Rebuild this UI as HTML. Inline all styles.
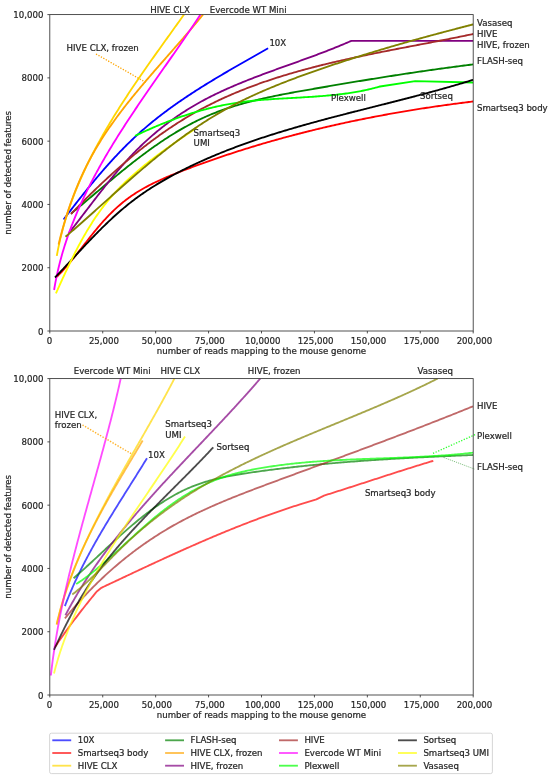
<!DOCTYPE html>
<html><head><meta charset="utf-8"><style>
html,body{margin:0;padding:0;background:#fff;}
body{width:550px;height:784px;overflow:hidden;}
svg{display:block;}
text{font-family:"DejaVu Sans","Liberation Sans",sans-serif;font-size:8.6px;fill:#262626;stroke:#262626;stroke-width:0.22px;}
.ax{stroke:#333;stroke-width:0.85;fill:none;}
</style></head><body>
<svg width="550" height="784" viewBox="0 0 550 784">
<defs><clipPath id="c14"><rect x="49.8" y="14.6" width="423.4" height="316.4"/></clipPath><clipPath id="c378"><rect x="49.8" y="378.6" width="423.4" height="316.4"/></clipPath></defs>
<g clip-path="url(#c14)" fill="none" stroke-width="1.85" stroke-linejoin="round" stroke-linecap="butt" opacity="1">
<path d="M63.60,219.50L64.52,218.30 65.44,217.09 66.36,215.89 67.28,214.69 68.20,213.49 69.12,212.28 70.05,211.08 70.97,209.88 71.90,208.68 72.83,207.48 73.76,206.28 74.69,205.08 75.62,203.89 76.55,202.69 77.49,201.50 78.42,200.30 79.36,199.11 80.30,197.92 81.24,196.73 82.19,195.54 83.13,194.35 84.08,193.16 85.03,191.98 85.98,190.80 86.93,189.61 87.89,188.43 88.85,187.26 89.81,186.08 90.77,184.91 91.73,183.73 92.70,182.56 93.67,181.39 94.64,180.23 95.61,179.06 96.59,177.90 97.57,176.74 98.55,175.59 99.53,174.43 100.52,173.28 101.51,172.13 102.50,170.99 103.49,169.84 104.49,168.70 105.49,167.57 106.50,166.43 107.50,165.30 108.51,164.17 109.52,163.04 110.54,161.92 111.56,160.80 112.58,159.69 113.61,158.58 114.63,157.47 115.67,156.36 116.70,155.26 117.74,154.16 118.78,153.07 119.83,151.98 120.88,150.89 121.93,149.81 122.99,148.73 124.05,147.65 125.11,146.58 126.18,145.52 127.25,144.46 128.33,143.40 129.41,142.34 130.49,141.29 131.58,140.25 132.67,139.21 133.77,138.18 134.87,137.14 135.97,136.12 137.08,135.10 138.19,134.08 139.31,133.07 140.43,132.06 141.56,131.06 142.69,130.07 143.82,129.08 144.96,128.09 146.11,127.11 147.26,126.14 148.41,125.16 149.56,124.20 150.73,123.24 151.89,122.28 153.06,121.33 154.23,120.38 155.41,119.44 156.59,118.50 157.78,117.57 158.96,116.64 160.16,115.72 161.35,114.80 162.55,113.88 163.76,112.97 164.96,112.06 166.17,111.16 167.39,110.26 168.60,109.37 169.82,108.47 171.05,107.59 172.27,106.70 173.50,105.82 174.74,104.95 175.97,104.08 177.21,103.21 178.45,102.34 179.70,101.48 180.94,100.62 182.19,99.77 183.45,98.92 184.70,98.07 185.96,97.23 187.22,96.38 188.48,95.55 189.75,94.71 191.02,93.88 192.29,93.05 193.56,92.22 194.84,91.40 196.11,90.58 197.39,89.76 198.67,88.95 199.96,88.13 201.24,87.32 202.53,86.52 203.82,85.71 205.11,84.91 206.40,84.11 207.69,83.31 208.99,82.52 210.29,81.72 211.59,80.93 212.89,80.14 214.19,79.36 215.49,78.57 216.80,77.79 218.10,77.01 219.41,76.23 220.72,75.45 222.02,74.67 223.33,73.90 224.65,73.13 225.96,72.36 227.27,71.59 228.58,70.82 229.90,70.05 231.21,69.29 232.53,68.53 233.84,67.76 235.16,67.00 236.48,66.24 237.80,65.48 239.11,64.73 240.43,63.97 241.75,63.21 243.07,62.46 244.39,61.70 245.71,60.95 247.03,60.20 248.35,59.44 249.67,58.69 250.99,57.94 252.31,57.19 253.62,56.44 254.94,55.69 256.26,54.94 257.58,54.19 258.90,53.44 260.21,52.69 261.53,51.94 262.84,51.20 264.16,50.45 265.47,49.70 266.79,48.95 268.10,48.20" stroke="#0000ff"/>
<path d="M56.80,276.80L57.85,275.76 58.89,274.72 59.93,273.66 60.95,272.58 61.97,271.50 62.98,270.41 63.99,269.31 64.99,268.19 65.99,267.07 66.97,265.94 67.96,264.80 68.94,263.66 69.91,262.50 70.88,261.34 71.85,260.18 72.81,259.01 73.77,257.83 74.72,256.65 75.68,255.46 76.63,254.27 77.58,253.07 78.52,251.87 79.47,250.67 80.41,249.47 81.36,248.26 82.30,247.05 83.24,245.84 84.19,244.63 85.13,243.42 86.07,242.21 87.02,241.01 87.96,239.80 88.91,238.59 89.86,237.39 90.82,236.19 91.77,234.99 92.73,233.79 93.69,232.60 94.65,231.41 95.62,230.23 96.60,229.05 97.57,227.88 98.55,226.72 99.54,225.56 100.53,224.40 101.53,223.26 102.54,222.12 103.55,220.99 104.56,219.87 105.59,218.76 106.62,217.65 107.65,216.56 108.70,215.47 109.75,214.40 110.80,213.33 111.87,212.27 112.94,211.23 114.02,210.19 115.11,209.16 116.20,208.15 117.30,207.15 118.42,206.16 119.54,205.18 120.66,204.21 121.80,203.25 122.95,202.31 124.10,201.38 125.27,200.46 126.44,199.56 127.62,198.67 128.81,197.79 130.01,196.93 131.22,196.08 132.44,195.24 133.67,194.42 134.91,193.61 136.16,192.81 137.41,192.02 138.67,191.25 139.94,190.48 141.22,189.73 142.50,188.99 143.79,188.26 145.09,187.54 146.40,186.83 147.71,186.13 149.03,185.44 150.35,184.76 151.68,184.08 153.02,183.42 154.36,182.76 155.70,182.12 157.05,181.48 158.41,180.85 159.77,180.22 161.14,179.60 162.51,178.99 163.88,178.39 165.26,177.79 166.64,177.20 168.02,176.61 169.41,176.03 170.80,175.46 172.20,174.89 173.59,174.32 174.99,173.76 176.39,173.20 177.80,172.64 179.20,172.09 180.61,171.55 182.01,171.00 183.42,170.46 184.83,169.92 186.24,169.38 187.65,168.85 189.07,168.31 190.48,167.78 191.89,167.25 193.31,166.73 194.72,166.20 196.14,165.68 197.55,165.16 198.97,164.64 200.39,164.12 201.81,163.61 203.23,163.10 204.65,162.59 206.07,162.08 207.49,161.57 208.91,161.07 210.33,160.57 211.76,160.07 213.18,159.57 214.61,159.08 216.03,158.59 217.46,158.10 218.89,157.61 220.32,157.12 221.75,156.64 223.18,156.15 224.61,155.67 226.04,155.20 227.47,154.72 228.90,154.25 230.33,153.77 231.77,153.30 233.20,152.84 234.64,152.37 236.07,151.91 237.51,151.44 238.94,150.98 240.38,150.53 241.82,150.07 243.26,149.62 244.70,149.17 246.14,148.72 247.58,148.27 249.02,147.82 250.46,147.38 251.91,146.94 253.35,146.50 254.79,146.06 256.24,145.63 257.68,145.19 259.13,144.76 260.57,144.33 262.02,143.91 263.47,143.48 264.92,143.06 266.37,142.64 267.82,142.22 269.26,141.80 270.72,141.38 272.17,140.97 273.62,140.56 275.07,140.15 276.52,139.74 277.98,139.34 279.43,138.93 280.88,138.53 282.34,138.13 283.79,137.73 285.25,137.34 286.71,136.94 288.16,136.55 289.62,136.16 291.08,135.77 292.54,135.38 294.00,135.00 295.46,134.62 296.92,134.24 298.38,133.86 299.84,133.48 301.30,133.11 302.76,132.73 304.22,132.36 305.69,131.99 307.15,131.62 308.61,131.26 310.08,130.89 311.54,130.53 313.01,130.17 314.47,129.81 315.94,129.46 317.41,129.10 318.87,128.75 320.34,128.40 321.81,128.05 323.28,127.70 324.75,127.36 326.22,127.02 327.69,126.67 329.16,126.33 330.63,126.00 332.10,125.66 333.57,125.33 335.04,124.99 336.51,124.66 337.99,124.33 339.46,124.01 340.93,123.68 342.41,123.36 343.88,123.04 345.36,122.72 346.83,122.40 348.31,122.08 349.78,121.77 351.26,121.45 352.73,121.14 354.21,120.83 355.69,120.53 357.17,120.22 358.64,119.92 360.12,119.61 361.60,119.31 363.08,119.02 364.56,118.72 366.04,118.42 367.52,118.13 369.00,117.84 370.48,117.55 371.96,117.26 373.44,116.97 374.92,116.69 376.40,116.40 377.89,116.12 379.37,115.84 380.85,115.57 382.33,115.29 383.82,115.01 385.30,114.74 386.79,114.47 388.27,114.20 389.75,113.93 391.24,113.67 392.72,113.40 394.21,113.14 395.69,112.88 397.18,112.62 398.67,112.36 400.15,112.10 401.64,111.85 403.13,111.60 404.61,111.34 406.10,111.09 407.59,110.85 409.07,110.60 410.56,110.36 412.05,110.11 413.54,109.87 415.03,109.63 416.52,109.39 418.00,109.16 419.49,108.92 420.98,108.69 422.47,108.46 423.96,108.23 425.45,108.00 426.94,107.77 428.43,107.54 429.92,107.32 431.41,107.10 432.90,106.88 434.39,106.66 435.88,106.44 437.38,106.22 438.87,106.01 440.36,105.80 441.85,105.59 443.34,105.38 444.83,105.17 446.33,104.96 447.82,104.76 449.31,104.55 450.80,104.35 452.30,104.15 453.79,103.95 455.28,103.75 456.77,103.56 458.27,103.36 459.76,103.17 461.25,102.98 462.75,102.79 464.24,102.60 465.73,102.41 467.23,102.23 468.72,102.04 470.21,101.86 471.71,101.68 473.20,101.50" stroke="#ff0000"/>
<path d="M56.80,255.90L57.07,254.38 57.35,252.87 57.63,251.36 57.92,249.85 58.22,248.35 58.53,246.85 58.85,245.35 59.17,243.85 59.50,242.36 59.83,240.87 60.17,239.39 60.53,237.90 60.88,236.42 61.25,234.95 61.62,233.47 62.00,232.00 62.38,230.53 62.77,229.06 63.17,227.60 63.58,226.14 63.99,224.68 64.41,223.22 64.83,221.77 65.27,220.32 65.70,218.88 66.15,217.43 66.60,215.99 67.06,214.55 67.52,213.11 67.99,211.68 68.47,210.25 68.95,208.82 69.44,207.39 69.94,205.97 70.44,204.55 70.94,203.13 71.46,201.71 71.97,200.30 72.50,198.89 73.03,197.48 73.56,196.07 74.11,194.67 74.65,193.27 75.21,191.87 75.76,190.47 76.33,189.08 76.90,187.69 77.47,186.30 78.05,184.91 78.64,183.53 79.23,182.14 79.83,180.76 80.43,179.38 81.03,178.01 81.64,176.63 82.26,175.26 82.88,173.89 83.51,172.53 84.14,171.16 84.78,169.80 85.42,168.44 86.06,167.08 86.71,165.72 87.37,164.37 88.03,163.02 88.69,161.67 89.36,160.32 90.03,158.97 90.71,157.63 91.39,156.28 92.08,154.94 92.77,153.61 93.46,152.27 94.16,150.93 94.86,149.60 95.57,148.27 96.28,146.94 97.00,145.62 97.72,144.29 98.44,142.97 99.17,141.65 99.90,140.33 100.63,139.01 101.37,137.69 102.11,136.38 102.85,135.06 103.60,133.75 104.36,132.44 105.11,131.13 105.87,129.83 106.63,128.52 107.40,127.22 108.17,125.92 108.94,124.62 109.72,123.32 110.50,122.03 111.28,120.73 112.06,119.44 112.85,118.14 113.64,116.85 114.43,115.57 115.23,114.28 116.03,112.99 116.83,111.71 117.64,110.42 118.44,109.14 119.25,107.86 120.07,106.58 120.88,105.30 121.70,104.03 122.52,102.75 123.34,101.48 124.17,100.21 124.99,98.94 125.82,97.67 126.65,96.40 127.49,95.13 128.32,93.86 129.16,92.60 130.00,91.33 130.84,90.07 131.69,88.81 132.53,87.55 133.38,86.29 134.23,85.03 135.08,83.77 135.93,82.52 136.79,81.26 137.64,80.01 138.50,78.76 139.36,77.50 140.22,76.25 141.08,75.00 141.94,73.75 142.81,72.51 143.67,71.26 144.54,70.01 145.41,68.77 146.27,67.52 147.14,66.28 148.01,65.04 148.89,63.79 149.76,62.55 150.63,61.31 151.51,60.07 152.38,58.83 153.26,57.59 154.13,56.36 155.01,55.12 155.89,53.88 156.77,52.65 157.65,51.41 158.53,50.18 159.41,48.95 160.29,47.71 161.17,46.48 162.05,45.25 162.93,44.02 163.81,42.79 164.69,41.56 165.57,40.33 166.45,39.10 167.33,37.87 168.21,36.64 169.09,35.42 169.97,34.19 170.85,32.96 171.73,31.73 172.61,30.51 173.49,29.28 174.37,28.06 175.25,26.83 176.13,25.61 177.01,24.38 177.88,23.16 178.76,21.94 179.63,20.71 180.51,19.49 181.38,18.27 182.26,17.05 183.13,15.82 184.00,14.60" stroke="#ffd700"/>
<path d="M71.20,213.50L72.35,212.56 73.50,211.61 74.65,210.66 75.80,209.71 76.95,208.75 78.09,207.80 79.24,206.84 80.39,205.88 81.54,204.92 82.69,203.96 83.84,202.99 84.99,202.03 86.14,201.06 87.29,200.10 88.44,199.13 89.59,198.16 90.74,197.19 91.89,196.22 93.04,195.25 94.19,194.28 95.35,193.30 96.50,192.33 97.65,191.36 98.81,190.39 99.96,189.41 101.12,188.44 102.28,187.47 103.44,186.50 104.59,185.53 105.75,184.55 106.91,183.58 108.08,182.61 109.24,181.64 110.40,180.68 111.57,179.71 112.73,178.74 113.90,177.78 115.07,176.81 116.24,175.85 117.41,174.89 118.58,173.93 119.75,172.97 120.93,172.01 122.10,171.06 123.28,170.11 124.46,169.16 125.64,168.21 126.82,167.26 128.00,166.32 129.19,165.38 130.38,164.44 131.57,163.50 132.76,162.57 133.95,161.64 135.14,160.71 136.34,159.79 137.54,158.87 138.74,157.95 139.94,157.04 141.14,156.12 142.35,155.22 143.56,154.31 144.77,153.41 145.98,152.52 147.20,151.62 148.41,150.73 149.63,149.85 150.85,148.97 152.08,148.09 153.30,147.22 154.53,146.36 155.77,145.49 157.00,144.64 158.24,143.78 159.48,142.93 160.72,142.09 161.96,141.25 163.21,140.42 164.46,139.59 165.71,138.77 166.97,137.96 168.23,137.15 169.49,136.34 170.75,135.54 172.02,134.75 173.29,133.96 174.57,133.18 175.84,132.40 177.12,131.63 178.41,130.87 179.69,130.12 180.98,129.37 182.27,128.62 183.57,127.89 184.87,127.16 186.17,126.44 187.48,125.72 188.79,125.01 190.10,124.31 191.42,123.62 192.74,122.94 194.07,122.26 195.39,121.59 196.73,120.92 198.06,120.27 199.40,119.62 200.74,118.98 202.09,118.35 203.44,117.73 204.80,117.12 206.16,116.51 207.52,115.91 208.89,115.33 210.26,114.75 211.63,114.18 213.01,113.61 214.40,113.06 215.78,112.52 217.17,111.98 218.57,111.45 219.97,110.93 221.37,110.42 222.78,109.91 224.19,109.42 225.60,108.93 227.02,108.44 228.43,107.97 229.86,107.50 231.28,107.04 232.71,106.59 234.14,106.14 235.58,105.70 237.02,105.27 238.46,104.84 239.90,104.42 241.35,104.01 242.80,103.60 244.25,103.20 245.70,102.80 247.16,102.41 248.62,102.03 250.08,101.65 251.54,101.27 253.00,100.91 254.47,100.54 255.94,100.18 257.41,99.83 258.88,99.48 260.36,99.14 261.84,98.80 263.31,98.46 264.79,98.13 266.27,97.80 267.76,97.48 269.24,97.16 270.73,96.85 272.21,96.53 273.70,96.23 275.19,95.92 276.68,95.62 278.17,95.32 279.66,95.03 281.15,94.73 282.65,94.44 284.14,94.16 285.63,93.87 287.13,93.59 288.62,93.31 290.12,93.03 291.61,92.76 293.11,92.48 294.61,92.21 296.10,91.94 297.60,91.67 299.10,91.41 300.59,91.14 302.09,90.87 303.59,90.61 305.08,90.35 306.58,90.09 308.07,89.82 309.57,89.56 311.06,89.30 312.55,89.04 314.05,88.78 315.54,88.53 317.03,88.27 318.52,88.01 320.01,87.75 321.50,87.49 322.99,87.24 324.48,86.98 325.97,86.72 327.46,86.47 328.94,86.21 330.43,85.96 331.92,85.70 333.40,85.45 334.89,85.20 336.38,84.94 337.86,84.69 339.35,84.44 340.83,84.19 342.31,83.94 343.80,83.69 345.28,83.44 346.77,83.19 348.25,82.94 349.73,82.69 351.21,82.44 352.70,82.20 354.18,81.95 355.66,81.70 357.14,81.46 358.62,81.21 360.10,80.97 361.59,80.72 363.07,80.48 364.55,80.24 366.03,79.99 367.51,79.75 368.99,79.51 370.47,79.27 371.95,79.03 373.43,78.79 374.91,78.55 376.39,78.32 377.87,78.08 379.35,77.84 380.83,77.60 382.31,77.37 383.79,77.13 385.27,76.90 386.75,76.67 388.23,76.43 389.71,76.20 391.20,75.97 392.68,75.74 394.16,75.51 395.64,75.28 397.12,75.05 398.60,74.82 400.08,74.59 401.57,74.37 403.05,74.14 404.53,73.91 406.01,73.69 407.50,73.47 408.98,73.24 410.46,73.02 411.95,72.80 413.43,72.58 414.91,72.36 416.40,72.14 417.88,71.92 419.37,71.70 420.85,71.48 422.34,71.27 423.83,71.05 425.31,70.84 426.80,70.62 428.29,70.41 429.78,70.20 431.27,69.98 432.76,69.77 434.25,69.56 435.74,69.35 437.23,69.14 438.72,68.94 440.21,68.73 441.70,68.52 443.20,68.32 444.69,68.11 446.18,67.91 447.68,67.71 449.17,67.51 450.67,67.31 452.17,67.11 453.67,66.91 455.16,66.71 456.66,66.51 458.16,66.31 459.66,66.12 461.16,65.92 462.67,65.73 464.17,65.54 465.67,65.35 467.18,65.15 468.68,64.96 470.19,64.78 471.69,64.59 473.20,64.40" stroke="#008000"/>
<path d="M58.60,244.50L58.96,243.01 59.32,241.53 59.69,240.04 60.06,238.56 60.43,237.08 60.81,235.60 61.20,234.13 61.59,232.65 61.99,231.18 62.39,229.71 62.80,228.24 63.21,226.78 63.63,225.31 64.05,223.85 64.48,222.39 64.91,220.94 65.35,219.48 65.79,218.03 66.24,216.58 66.70,215.13 67.16,213.69 67.62,212.24 68.10,210.80 68.57,209.36 69.06,207.93 69.54,206.50 70.04,205.07 70.54,203.64 71.04,202.21 71.56,200.79 72.07,199.37 72.60,197.96 73.13,196.54 73.66,195.13 74.20,193.72 74.75,192.32 75.30,190.91 75.86,189.52 76.43,188.12 77.00,186.73 77.58,185.34 78.16,183.95 78.75,182.56 79.35,181.18 79.95,179.81 80.56,178.43 81.17,177.06 81.79,175.69 82.42,174.33 83.06,172.97 83.70,171.61 84.34,170.26 85.00,168.91 85.66,167.56 86.32,166.21 87.00,164.87 87.68,163.54 88.36,162.20 89.06,160.88 89.76,159.55 90.47,158.23 91.18,156.91 91.90,155.60 92.63,154.29 93.36,152.98 94.10,151.68 94.85,150.38 95.61,149.08 96.37,147.79 97.13,146.50 97.91,145.22 98.69,143.94 99.47,142.66 100.27,141.39 101.07,140.12 101.87,138.85 102.68,137.58 103.50,136.32 104.32,135.07 105.14,133.81 105.98,132.56 106.81,131.31 107.66,130.07 108.50,128.82 109.36,127.59 110.22,126.35 111.08,125.12 111.95,123.89 112.82,122.66 113.70,121.43 114.58,120.21 115.47,118.99 116.36,117.77 117.26,116.56 118.16,115.35 119.06,114.14 119.97,112.93 120.88,111.73 121.80,110.52 122.72,109.32 123.64,108.13 124.57,106.93 125.50,105.74 126.43,104.55 127.37,103.36 128.31,102.17 129.26,100.98 130.20,99.80 131.15,98.62 132.11,97.44 133.06,96.26 134.02,95.09 134.98,93.91 135.95,92.74 136.92,91.57 137.89,90.40 138.86,89.23 139.83,88.07 140.81,86.90 141.79,85.74 142.77,84.58 143.75,83.42 144.73,82.26 145.72,81.10 146.71,79.94 147.70,78.79 148.69,77.63 149.68,76.48 150.67,75.33 151.67,74.18 152.67,73.03 153.66,71.88 154.66,70.73 155.66,69.58 156.66,68.43 157.66,67.29 158.66,66.14 159.66,65.00 160.67,63.85 161.67,62.71 162.67,61.57 163.68,60.42 164.68,59.28 165.68,58.14 166.69,57.00 167.69,55.86 168.69,54.72 169.70,53.58 170.70,52.43 171.70,51.29 172.70,50.15 173.70,49.01 174.70,47.87 175.70,46.73 176.70,45.59 177.70,44.45 178.69,43.31 179.69,42.17 180.68,41.03 181.67,39.89 182.67,38.74 183.66,37.60 184.64,36.46 185.63,35.32 186.61,34.17 187.60,33.03 188.58,31.88 189.56,30.74 190.53,29.59 191.51,28.44 192.48,27.29 193.45,26.14 194.42,25.00 195.38,23.84 196.34,22.69 197.30,21.54 198.26,20.39 199.22,19.23 200.17,18.08 201.11,16.92 202.06,15.76 203.00,14.60" stroke="#ffa500"/>
<path d="M68.50,233.50L69.43,232.33 70.35,231.16 71.27,229.99 72.20,228.81 73.12,227.63 74.04,226.45 74.96,225.27 75.88,224.08 76.80,222.90 77.71,221.71 78.63,220.52 79.55,219.32 80.47,218.13 81.38,216.93 82.30,215.73 83.22,214.54 84.13,213.34 85.05,212.13 85.97,210.93 86.89,209.73 87.80,208.53 88.72,207.33 89.64,206.12 90.56,204.92 91.48,203.72 92.41,202.51 93.33,201.31 94.25,200.11 95.18,198.90 96.11,197.70 97.03,196.50 97.96,195.30 98.89,194.10 99.83,192.90 100.76,191.70 101.70,190.51 102.63,189.31 103.57,188.12 104.52,186.93 105.46,185.74 106.41,184.55 107.36,183.37 108.31,182.19 109.26,181.00 110.22,179.83 111.18,178.65 112.14,177.48 113.10,176.31 114.07,175.14 115.04,173.98 116.01,172.82 116.99,171.66 117.97,170.51 118.95,169.36 119.94,168.21 120.93,167.07 121.92,165.93 122.92,164.79 123.92,163.66 124.93,162.54 125.94,161.41 126.95,160.30 127.97,159.19 128.99,158.08 130.02,156.98 131.05,155.88 132.08,154.79 133.12,153.70 134.17,152.62 135.22,151.54 136.27,150.47 137.33,149.41 138.40,148.35 139.47,147.30 140.54,146.26 141.62,145.22 142.70,144.18 143.79,143.16 144.89,142.13 145.99,141.12 147.09,140.11 148.20,139.11 149.32,138.11 150.44,137.12 151.56,136.14 152.69,135.16 153.82,134.19 154.96,133.22 156.11,132.27 157.25,131.31 158.41,130.37 159.57,129.43 160.73,128.49 161.90,127.57 163.07,126.64 164.25,125.73 165.43,124.82 166.62,123.92 167.81,123.02 169.01,122.13 170.21,121.25 171.41,120.38 172.62,119.51 173.84,118.64 175.06,117.79 176.28,116.94 177.51,116.09 178.75,115.25 179.98,114.42 181.23,113.60 182.47,112.78 183.72,111.97 184.98,111.16 186.24,110.37 187.51,109.57 188.78,108.79 190.05,108.01 191.33,107.24 192.61,106.47 193.90,105.72 195.19,104.96 196.48,104.22 197.78,103.48 199.09,102.75 200.40,102.02 201.71,101.30 203.03,100.59 204.35,99.88 205.67,99.18 207.00,98.49 208.33,97.80 209.67,97.11 211.01,96.44 212.35,95.77 213.70,95.10 215.05,94.44 216.40,93.78 217.76,93.13 219.12,92.49 220.48,91.85 221.85,91.21 223.22,90.58 224.59,89.95 225.96,89.33 227.34,88.72 228.72,88.10 230.10,87.50 231.49,86.89 232.88,86.29 234.27,85.70 235.66,85.11 237.06,84.52 238.46,83.93 239.86,83.35 241.26,82.78 242.66,82.20 244.07,81.63 245.47,81.07 246.88,80.50 248.30,79.94 249.71,79.38 251.12,78.83 252.54,78.28 253.96,77.73 255.38,77.18 256.80,76.64 258.22,76.10 259.64,75.56 261.07,75.02 262.49,74.49 263.92,73.95 265.34,73.42 266.77,72.89 268.20,72.36 269.63,71.84 271.06,71.31 272.49,70.79 273.92,70.27 275.35,69.75 276.79,69.23 278.22,68.71 279.65,68.19 281.08,67.68 282.52,67.16 283.95,66.65 285.38,66.13 286.82,65.62 288.25,65.10 289.68,64.59 291.11,64.08 292.54,63.56 293.98,63.05 295.41,62.54 296.84,62.03 298.27,61.51 299.69,61.00 301.12,60.48 302.55,59.97 303.97,59.45 305.40,58.93 306.82,58.42 308.25,57.90 309.67,57.38 311.09,56.86 312.51,56.33 313.92,55.81 315.34,55.29 316.75,54.76 318.17,54.23 319.58,53.70 320.99,53.17 322.39,52.63 323.80,52.10 325.20,51.56 326.60,51.02 328.00,50.48 329.40,49.93 330.80,49.39 332.19,48.83 333.58,48.28 334.97,47.73 336.35,47.17 337.73,46.61 339.11,46.04 340.49,45.47 341.86,44.90 343.24,44.33 344.60,43.75 345.97,43.17 347.33,42.58 348.69,41.99 350.05,41.40 351.40,40.80L473.20,40.90" stroke="#800080"/>
<path d="M70.90,214.10L71.94,213.02 72.99,211.93 74.03,210.85 75.08,209.77 76.13,208.69 77.18,207.61 78.24,206.53 79.29,205.45 80.35,204.38 81.41,203.30 82.47,202.23 83.54,201.16 84.60,200.09 85.67,199.02 86.74,197.95 87.82,196.89 88.89,195.82 89.97,194.76 91.05,193.70 92.13,192.64 93.21,191.59 94.30,190.53 95.38,189.48 96.47,188.43 97.57,187.38 98.66,186.33 99.76,185.28 100.86,184.24 101.96,183.20 103.06,182.16 104.17,181.12 105.27,180.09 106.38,179.06 107.50,178.03 108.61,177.00 109.73,175.98 110.85,174.95 111.97,173.93 113.09,172.92 114.22,171.90 115.35,170.89 116.48,169.88 117.61,168.88 118.75,167.87 119.89,166.87 121.03,165.87 122.17,164.88 123.32,163.89 124.46,162.90 125.61,161.91 126.77,160.93 127.92,159.95 129.08,158.98 130.24,158.00 131.40,157.03 132.57,156.07 133.73,155.11 134.90,154.15 136.08,153.19 137.25,152.24 138.43,151.29 139.61,150.34 140.79,149.40 141.98,148.47 143.17,147.53 144.36,146.60 145.55,145.67 146.74,144.75 147.94,143.83 149.14,142.92 150.35,142.01 151.55,141.10 152.76,140.20 153.97,139.30 155.19,138.41 156.40,137.52 157.62,136.63 158.84,135.75 160.07,134.87 161.30,134.00 162.53,133.13 163.76,132.27 164.99,131.41 166.23,130.56 167.47,129.71 168.72,128.86 169.96,128.02 171.21,127.19 172.47,126.36 173.72,125.53 174.98,124.71 176.24,123.89 177.50,123.08 178.77,122.28 180.04,121.48 181.31,120.68 182.58,119.89 183.86,119.11 185.14,118.33 186.43,117.55 187.71,116.78 189.00,116.02 190.29,115.26 191.59,114.50 192.89,113.76 194.19,113.02 195.49,112.28 196.80,111.55 198.11,110.82 199.42,110.10 200.73,109.39 202.05,108.68 203.37,107.98 204.70,107.28 206.03,106.59 207.36,105.90 208.69,105.22 210.02,104.55 211.36,103.88 212.70,103.21 214.05,102.55 215.39,101.90 216.74,101.25 218.09,100.60 219.44,99.96 220.80,99.33 222.16,98.70 223.52,98.08 224.89,97.46 226.25,96.84 227.62,96.24 228.99,95.63 230.37,95.03 231.74,94.44 233.12,93.85 234.50,93.26 235.88,92.68 237.27,92.10 238.66,91.53 240.05,90.97 241.44,90.40 242.83,89.85 244.23,89.29 245.63,88.74 247.03,88.20 248.43,87.66 249.83,87.12 251.24,86.59 252.65,86.06 254.06,85.54 255.47,85.02 256.89,84.51 258.30,84.00 259.72,83.49 261.14,82.99 262.56,82.49 263.99,81.99 265.41,81.50 266.84,81.01 268.27,80.53 269.70,80.05 271.13,79.57 272.57,79.10 274.01,78.63 275.44,78.17 276.88,77.71 278.32,77.25 279.77,76.80 281.21,76.35 282.65,75.90 284.10,75.46 285.55,75.02 287.00,74.58 288.45,74.15 289.90,73.72 291.36,73.29 292.81,72.86 294.27,72.44 295.73,72.03 297.19,71.61 298.65,71.20 300.11,70.79 301.57,70.39 303.04,69.99 304.50,69.59 305.97,69.19 307.44,68.80 308.91,68.41 310.38,68.02 311.85,67.63 313.32,67.25 314.79,66.87 316.27,66.49 317.74,66.12 319.22,65.75 320.69,65.38 322.17,65.01 323.65,64.64 325.13,64.28 326.61,63.92 328.09,63.56 329.57,63.21 331.05,62.86 332.54,62.51 334.02,62.16 335.50,61.81 336.99,61.47 338.48,61.12 339.96,60.78 341.45,60.45 342.94,60.11 344.42,59.78 345.91,59.44 347.40,59.11 348.89,58.78 350.38,58.46 351.87,58.13 353.36,57.81 354.85,57.49 356.34,57.17 357.84,56.85 359.33,56.53 360.82,56.22 362.31,55.90 363.80,55.59 365.30,55.28 366.79,54.97 368.28,54.66 369.78,54.36 371.27,54.05 372.76,53.75 374.26,53.44 375.75,53.14 377.24,52.84 378.74,52.54 380.23,52.24 381.72,51.95 383.22,51.65 384.71,51.35 386.20,51.06 387.70,50.76 389.19,50.47 390.68,50.18 392.17,49.89 393.67,49.60 395.16,49.31 396.65,49.02 398.14,48.73 399.63,48.44 401.12,48.16 402.61,47.87 404.10,47.58 405.59,47.30 407.08,47.01 408.57,46.73 410.05,46.44 411.54,46.16 413.03,45.87 414.51,45.59 416.00,45.30 417.48,45.02 418.97,44.74 420.45,44.45 421.93,44.17 423.42,43.89 424.90,43.60 426.38,43.32 427.86,43.04 429.34,42.75 430.81,42.47 432.29,42.18 433.77,41.90 435.24,41.62 436.72,41.33 438.19,41.05 439.66,40.76 441.13,40.47 442.60,40.19 444.07,39.90 445.54,39.61 447.01,39.32 448.47,39.04 449.94,38.75 451.40,38.46 452.87,38.17 454.33,37.87 455.79,37.58 457.24,37.29 458.70,37.00 460.16,36.70 461.61,36.40 463.07,36.11 464.52,35.81 465.97,35.51 467.42,35.21 468.87,34.91 470.31,34.61 471.76,34.30 473.20,34.00" stroke="#a52a2a"/>
<path d="M54.10,290.00L54.35,288.48 54.61,286.96 54.88,285.44 55.15,283.92 55.43,282.41 55.72,280.90 56.01,279.40 56.31,277.90 56.62,276.40 56.94,274.90 57.27,273.41 57.60,271.92 57.94,270.43 58.28,268.95 58.63,267.46 58.99,265.99 59.36,264.51 59.73,263.04 60.11,261.57 60.50,260.10 60.89,258.64 61.29,257.17 61.70,255.72 62.11,254.26 62.53,252.81 62.96,251.35 63.39,249.91 63.83,248.46 64.28,247.02 64.73,245.58 65.19,244.14 65.65,242.71 66.12,241.27 66.60,239.84 67.08,238.42 67.57,236.99 68.06,235.57 68.56,234.15 69.07,232.73 69.58,231.32 70.10,229.91 70.62,228.50 71.15,227.09 71.69,225.69 72.23,224.28 72.77,222.88 73.33,221.49 73.88,220.09 74.45,218.70 75.01,217.31 75.59,215.92 76.16,214.53 76.75,213.15 77.34,211.76 77.93,210.39 78.53,209.01 79.13,207.63 79.74,206.26 80.36,204.89 80.97,203.52 81.60,202.15 82.23,200.79 82.86,199.42 83.50,198.06 84.14,196.71 84.79,195.35 85.44,193.99 86.09,192.64 86.75,191.29 87.42,189.94 88.09,188.60 88.76,187.25 89.44,185.91 90.12,184.57 90.81,183.23 91.50,181.89 92.19,180.55 92.89,179.22 93.59,177.89 94.30,176.56 95.01,175.23 95.72,173.90 96.44,172.58 97.16,171.25 97.89,169.93 98.62,168.61 99.35,167.29 100.09,165.98 100.83,164.66 101.57,163.35 102.32,162.04 103.07,160.73 103.82,159.42 104.58,158.11 105.34,156.80 106.10,155.50 106.87,154.20 107.64,152.90 108.41,151.60 109.18,150.30 109.96,149.00 110.74,147.70 111.53,146.41 112.31,145.12 113.10,143.82 113.90,142.53 114.69,141.24 115.49,139.96 116.29,138.67 117.09,137.38 117.90,136.10 118.71,134.82 119.52,133.54 120.33,132.26 121.14,130.98 121.96,129.70 122.78,128.42 123.60,127.14 124.43,125.87 125.25,124.59 126.08,123.32 126.91,122.05 127.74,120.78 128.57,119.51 129.41,118.24 130.25,116.97 131.09,115.71 131.93,114.44 132.77,113.17 133.61,111.91 134.46,110.65 135.30,109.38 136.15,108.12 137.00,106.86 137.85,105.60 138.71,104.34 139.56,103.08 140.41,101.83 141.27,100.57 142.13,99.31 142.99,98.06 143.84,96.80 144.70,95.55 145.57,94.29 146.43,93.04 147.29,91.79 148.16,90.54 149.02,89.29 149.88,88.03 150.75,86.78 151.62,85.53 152.48,84.29 153.35,83.04 154.22,81.79 155.09,80.54 155.96,79.29 156.83,78.05 157.70,76.80 158.57,75.55 159.44,74.31 160.31,73.06 161.18,71.82 162.05,70.57 162.92,69.33 163.79,68.08 164.66,66.84 165.53,65.60 166.40,64.35 167.27,63.11 168.14,61.87 169.00,60.62 169.87,59.38 170.74,58.14 171.61,56.90 172.48,55.65 173.34,54.41 174.21,53.17 175.07,51.93 175.94,50.69 176.80,49.44 177.67,48.20 178.53,46.96 179.39,45.72 180.25,44.48 181.11,43.23 181.97,41.99 182.83,40.75 183.68,39.51 184.54,38.26 185.39,37.02 186.24,35.78 187.09,34.53 187.94,33.29 188.79,32.05 189.64,30.80 190.49,29.56 191.33,28.31 192.17,27.07 193.01,25.82 193.85,24.58 194.69,23.33 195.53,22.09 196.36,20.84 197.19,19.59 198.02,18.35 198.85,17.10 199.68,15.85 200.50,14.60" stroke="#ff00ff"/>
<path d="M135.00,135.90L136.37,135.24 137.74,134.59 139.12,133.94 140.49,133.30 141.87,132.66 143.25,132.02 144.63,131.39 146.01,130.76 147.40,130.14 148.78,129.53 150.17,128.91 151.56,128.30 152.95,127.70 154.35,127.10 155.74,126.51 157.14,125.92 158.53,125.34 159.93,124.76 161.34,124.19 162.74,123.62 164.14,123.06 165.55,122.50 166.96,121.95 168.37,121.40 169.78,120.86 171.19,120.32 172.61,119.79 174.02,119.27 175.44,118.75 176.86,118.24 178.28,117.73 179.70,117.23 181.13,116.73 182.55,116.24 183.98,115.76 185.41,115.28 186.84,114.81 188.27,114.35 189.71,113.89 191.14,113.43 192.58,112.99 194.02,112.55 195.46,112.12 196.90,111.69 198.34,111.27 199.79,110.86 201.23,110.45 202.68,110.05 204.13,109.66 205.58,109.27 207.03,108.89 208.49,108.52 209.94,108.15 211.40,107.80 212.86,107.44 214.32,107.10 215.78,106.76 217.24,106.44 218.70,106.11 220.17,105.80 221.64,105.49 223.10,105.19 224.57,104.90 226.05,104.62 227.52,104.34 228.99,104.07 230.47,103.81 231.94,103.56 233.42,103.31 234.90,103.08 236.38,102.85 237.87,102.63 239.35,102.41 240.83,102.21 242.32,102.00 243.81,101.81 245.30,101.62 246.79,101.44 248.28,101.27 249.77,101.10 251.26,100.94 252.76,100.78 254.25,100.63 255.75,100.48 257.24,100.34 258.74,100.20 260.24,100.07 261.74,99.94 263.24,99.81 264.74,99.69 266.24,99.58 267.74,99.46 269.25,99.35 270.75,99.25 272.25,99.14 273.76,99.04 275.26,98.94 276.77,98.84 278.27,98.75 279.78,98.66 281.29,98.57 282.79,98.48 284.30,98.39 285.81,98.30 287.32,98.22 288.83,98.13 290.33,98.05 291.84,97.97 293.35,97.88 294.86,97.80 296.37,97.71 297.88,97.63 299.39,97.55 300.90,97.46 302.41,97.37 303.92,97.28 305.42,97.19 306.93,97.10 308.44,97.01 309.95,96.92 311.46,96.82 312.97,96.72 314.47,96.62 315.98,96.51 317.49,96.40 318.99,96.29 320.50,96.18 322.00,96.06 323.51,95.94 325.01,95.81 326.52,95.68 328.02,95.54 329.52,95.40 331.02,95.26 332.53,95.11 334.03,94.96 335.53,94.80 337.02,94.63 338.52,94.46 340.02,94.28 341.52,94.10 343.01,93.91 344.51,93.71 346.00,93.51 347.49,93.30 348.98,93.08 350.47,92.86 351.96,92.62 353.45,92.38 354.94,92.13 356.42,91.88 357.91,91.61 359.39,91.34 360.87,91.06 362.35,90.77 363.83,90.47 365.31,90.16 366.78,89.84 368.26,89.51 369.73,89.17 371.20,88.82 372.67,88.46 374.14,88.09 375.61,87.71 377.07,87.32 378.54,86.91 380.00,86.50L415.20,81.10L473.20,82.50" stroke="#00ff00"/>
<path d="M55.00,277.50L56.03,276.42 57.07,275.34 58.10,274.25 59.13,273.16 60.16,272.07 61.19,270.98 62.22,269.88 63.24,268.78 64.27,267.68 65.30,266.58 66.33,265.48 67.35,264.38 68.38,263.28 69.41,262.17 70.43,261.07 71.46,259.96 72.49,258.85 73.51,257.75 74.54,256.64 75.57,255.53 76.60,254.42 77.63,253.32 78.66,252.21 79.69,251.10 80.73,250.00 81.76,248.89 82.80,247.79 83.83,246.68 84.87,245.58 85.91,244.48 86.95,243.38 87.99,242.28 89.04,241.19 90.08,240.09 91.13,239.00 92.18,237.91 93.23,236.82 94.29,235.74 95.35,234.66 96.41,233.58 97.47,232.50 98.53,231.42 99.60,230.35 100.67,229.29 101.74,228.22 102.82,227.16 103.90,226.10 104.98,225.05 106.06,224.00 107.15,222.96 108.24,221.92 109.34,220.88 110.44,219.85 111.54,218.82 112.64,217.80 113.75,216.78 114.87,215.77 115.99,214.77 117.11,213.76 118.24,212.77 119.37,211.78 120.50,210.79 121.64,209.82 122.79,208.84 123.93,207.88 125.09,206.92 126.25,205.97 127.41,205.02 128.58,204.08 129.75,203.15 130.93,202.22 132.12,201.31 133.31,200.40 134.50,199.49 135.70,198.60 136.91,197.71 138.12,196.83 139.33,195.95 140.55,195.08 141.78,194.22 143.01,193.37 144.25,192.52 145.48,191.68 146.73,190.85 147.98,190.02 149.23,189.20 150.49,188.39 151.75,187.58 153.02,186.78 154.29,185.99 155.56,185.20 156.84,184.41 158.12,183.64 159.41,182.87 160.69,182.10 161.99,181.34 163.28,180.59 164.58,179.84 165.89,179.10 167.19,178.36 168.50,177.63 169.81,176.90 171.13,176.18 172.45,175.47 173.77,174.76 175.09,174.05 176.42,173.35 177.75,172.65 179.08,171.96 180.41,171.28 181.75,170.60 183.09,169.92 184.43,169.25 185.77,168.58 187.11,167.92 188.46,167.26 189.81,166.60 191.16,165.95 192.51,165.31 193.87,164.66 195.23,164.03 196.58,163.39 197.95,162.76 199.31,162.14 200.67,161.52 202.04,160.90 203.41,160.29 204.78,159.68 206.15,159.07 207.52,158.47 208.90,157.88 210.28,157.28 211.65,156.69 213.03,156.11 214.42,155.53 215.80,154.95 217.19,154.37 218.57,153.80 219.96,153.24 221.35,152.67 222.75,152.11 224.14,151.56 225.54,151.00 226.93,150.45 228.33,149.91 229.73,149.36 231.13,148.83 232.54,148.29 233.94,147.76 235.35,147.23 236.76,146.70 238.17,146.18 239.58,145.66 240.99,145.14 242.40,144.63 243.82,144.12 245.23,143.61 246.65,143.11 248.07,142.60 249.49,142.11 250.91,141.61 252.33,141.12 253.76,140.63 255.18,140.14 256.61,139.66 258.04,139.17 259.46,138.69 260.89,138.22 262.32,137.74 263.76,137.27 265.19,136.81 266.62,136.34 268.06,135.88 269.50,135.41 270.93,134.96 272.37,134.50 273.81,134.05 275.25,133.60 276.69,133.15 278.14,132.70 279.58,132.25 281.02,131.81 282.47,131.37 283.92,130.93 285.36,130.50 286.81,130.06 288.26,129.63 289.71,129.20 291.16,128.77 292.61,128.35 294.06,127.92 295.51,127.50 296.97,127.08 298.42,126.66 299.88,126.25 301.33,125.83 302.79,125.42 304.25,125.01 305.70,124.60 307.16,124.19 308.62,123.78 310.08,123.38 311.54,122.97 313.00,122.57 314.46,122.17 315.92,121.77 317.38,121.37 318.85,120.98 320.31,120.58 321.77,120.19 323.24,119.79 324.70,119.40 326.17,119.01 327.63,118.62 329.10,118.23 330.56,117.85 332.03,117.46 333.50,117.08 334.96,116.69 336.43,116.31 337.90,115.93 339.36,115.55 340.83,115.16 342.30,114.79 343.77,114.41 345.24,114.03 346.71,113.65 348.17,113.27 349.64,112.90 351.11,112.52 352.58,112.15 354.05,111.77 355.52,111.40 356.99,111.03 358.46,110.65 359.93,110.28 361.40,109.91 362.87,109.54 364.34,109.17 365.80,108.79 367.27,108.42 368.74,108.05 370.21,107.68 371.68,107.31 373.15,106.94 374.62,106.57 376.09,106.20 377.55,105.83 379.02,105.46 380.49,105.09 381.96,104.72 383.43,104.35 384.89,103.98 386.36,103.61 387.83,103.24 389.29,102.87 390.76,102.50 392.22,102.13 393.69,101.75 395.15,101.38 396.62,101.01 398.08,100.64 399.54,100.26 401.01,99.89 402.47,99.51 403.93,99.14 405.39,98.76 406.85,98.39 408.31,98.01 409.77,97.63 411.23,97.25 412.69,96.87 414.15,96.49 415.61,96.11 417.06,95.73 418.52,95.35 419.98,94.96 421.43,94.58 422.89,94.19 424.34,93.81 425.79,93.42 427.24,93.03 428.69,92.64 430.14,92.25 431.59,91.85 433.04,91.46 434.49,91.07 435.94,90.67 437.38,90.27 438.83,89.87 440.27,89.47 441.72,89.07 443.16,88.67 444.60,88.26 446.04,87.86 447.48,87.45 448.92,87.04 450.36,86.63 451.79,86.21 453.23,85.80 454.66,85.38 456.09,84.97 457.53,84.55 458.96,84.12 460.39,83.70 461.82,83.28 463.24,82.85 464.67,82.42 466.09,81.99 467.52,81.55 468.94,81.12 470.36,80.68 471.78,80.24 473.20,79.80" stroke="#000000"/>
<path d="M55.90,293.40L56.52,292.02 57.15,290.65 57.77,289.27 58.39,287.89 59.02,286.51 59.64,285.13 60.27,283.76 60.90,282.38 61.53,281.00 62.16,279.62 62.79,278.24 63.43,276.86 64.06,275.49 64.70,274.11 65.34,272.73 65.99,271.36 66.63,269.99 67.28,268.61 67.93,267.24 68.58,265.87 69.24,264.50 69.90,263.13 70.56,261.77 71.22,260.40 71.89,259.04 72.56,257.68 73.24,256.32 73.92,254.97 74.60,253.61 75.29,252.26 75.98,250.92 76.67,249.57 77.37,248.23 78.07,246.89 78.78,245.55 79.50,244.21 80.21,242.88 80.94,241.56 81.66,240.23 82.39,238.91 83.13,237.59 83.88,236.28 84.62,234.97 85.38,233.67 86.14,232.36 86.90,231.07 87.67,229.77 88.45,228.49 89.24,227.20 90.03,225.92 90.82,224.65 91.63,223.38 92.44,222.12 93.25,220.86 94.08,219.60 94.91,218.35 95.74,217.11 96.59,215.87 97.44,214.64 98.30,213.41 99.17,212.19 100.04,210.98 100.93,209.77 101.82,208.57 102.72,207.37 103.62,206.18 104.54,205.00 105.46,203.82 106.40,202.65 107.34,201.49 108.29,200.33 109.25,199.18 110.22,198.04 111.19,196.91 112.18,195.78 113.17,194.66 114.18,193.55 115.19,192.44 116.21,191.34 117.23,190.25 118.27,189.16 119.31,188.08 120.36,187.00 121.42,185.94 122.49,184.87 123.56,183.82 124.64,182.77 125.72,181.72 126.82,180.69 127.92,179.65 129.02,178.63 130.13,177.61 131.25,176.59 132.38,175.58 133.51,174.58 134.64,173.58 135.78,172.58 136.93,171.59 138.08,170.61 139.24,169.63 140.40,168.66 141.57,167.69 142.74,166.72 143.92,165.76 145.10,164.81 146.29,163.86 147.47,162.91 148.67,161.97 149.87,161.03 151.07,160.10 152.27,159.17 153.48,158.24 154.69,157.32 155.90,156.40 157.12,155.48 158.34,154.57 159.56,153.67 160.79,152.76 162.02,151.86 163.25,150.97 164.48,150.07 165.71,149.18 166.95,148.29 168.19,147.41 169.43,146.53 170.67,145.65 171.91,144.77 173.15,143.90 174.40,143.03 175.64,142.16 176.89,141.29 178.14,140.43 179.38,139.57 180.63,138.71 181.88,137.85 183.12,137.00 184.37,136.14 185.62,135.29 186.86,134.44 188.11,133.60 189.35,132.75 190.60,131.90 191.84,131.06 193.08,130.22 194.32,129.38 195.56,128.54 196.80,127.70" stroke="#ffff00"/>
<path d="M65.50,236.80L66.64,235.82 67.77,234.85 68.91,233.87 70.04,232.88 71.18,231.90 72.31,230.91 73.44,229.93 74.57,228.94 75.70,227.95 76.83,226.96 77.96,225.96 79.09,224.97 80.22,223.97 81.35,222.98 82.48,221.98 83.60,220.98 84.73,219.98 85.86,218.98 86.99,217.98 88.11,216.97 89.24,215.97 90.36,214.97 91.49,213.96 92.62,212.95 93.74,211.95 94.87,210.94 95.99,209.93 97.12,208.93 98.24,207.92 99.37,206.91 100.50,205.90 101.62,204.89 102.75,203.88 103.87,202.87 105.00,201.86 106.13,200.85 107.25,199.84 108.38,198.83 109.51,197.82 110.64,196.82 111.76,195.81 112.89,194.80 114.02,193.79 115.15,192.78 116.28,191.78 117.41,190.77 118.55,189.76 119.68,188.76 120.81,187.75 121.94,186.75 123.08,185.75 124.21,184.75 125.35,183.74 126.49,182.74 127.62,181.75 128.76,180.75 129.90,179.75 131.04,178.76 132.18,177.76 133.32,176.77 134.47,175.78 135.61,174.79 136.76,173.80 137.90,172.81 139.05,171.83 140.20,170.84 141.35,169.86 142.50,168.88 143.65,167.90 144.81,166.93 145.96,165.95 147.12,164.98 148.28,164.01 149.44,163.04 150.60,162.07 151.76,161.11 152.92,160.15 154.09,159.19 155.25,158.23 156.42,157.28 157.59,156.33 158.77,155.38 159.94,154.43 161.11,153.49 162.29,152.54 163.47,151.60 164.65,150.67 165.83,149.74 167.02,148.81 168.20,147.88 169.39,146.96 170.58,146.03 171.78,145.12 172.97,144.20 174.17,143.29 175.37,142.38 176.57,141.48 177.77,140.58 178.98,139.68 180.18,138.79 181.39,137.90 182.61,137.01 183.82,136.13 185.04,135.25 186.26,134.37 187.48,133.50 188.70,132.63 189.93,131.77 191.16,130.91 192.39,130.05 193.62,129.20 194.86,128.36 196.10,127.51 197.34,126.67 198.59,125.84 199.84,125.01 201.09,124.19 202.34,123.36 203.60,122.55 204.85,121.74 206.12,120.93 207.38,120.13 208.65,119.33 209.92,118.54 211.19,117.75 212.47,116.97 213.75,116.19 215.03,115.42 216.32,114.65 217.61,113.89 218.90,113.14 220.20,112.39 221.50,111.64 222.80,110.90 224.10,110.16 225.41,109.43 226.73,108.71 228.04,107.99 229.36,107.28 230.68,106.57 232.01,105.87 233.33,105.17 234.66,104.47 236.00,103.78 237.33,103.10 238.67,102.42 240.01,101.75 241.36,101.08 242.71,100.41 244.05,99.75 245.41,99.10 246.76,98.45 248.12,97.80 249.48,97.16 250.84,96.52 252.21,95.88 253.57,95.25 254.94,94.63 256.32,94.01 257.69,93.39 259.07,92.77 260.45,92.16 261.83,91.56 263.21,90.96 264.59,90.36 265.98,89.76 267.37,89.17 268.76,88.58 270.15,88.00 271.55,87.42 272.94,86.84 274.34,86.27 275.74,85.70 277.14,85.13 278.54,84.56 279.95,84.00 281.35,83.45 282.76,82.89 284.17,82.34 285.58,81.79 286.99,81.24 288.40,80.70 289.82,80.16 291.23,79.62 292.65,79.09 294.07,78.55 295.49,78.02 296.90,77.49 298.33,76.97 299.75,76.45 301.17,75.92 302.59,75.41 304.02,74.89 305.44,74.38 306.87,73.86 308.30,73.35 309.73,72.84 311.15,72.34 312.58,71.83 314.01,71.33 315.44,70.83 316.87,70.33 318.30,69.83 319.73,69.34 321.17,68.84 322.60,68.35 324.03,67.86 325.47,67.37 326.90,66.88 328.33,66.40 329.77,65.91 331.20,65.43 332.64,64.95 334.08,64.47 335.51,63.99 336.95,63.51 338.39,63.04 339.83,62.56 341.26,62.09 342.70,61.62 344.14,61.15 345.58,60.69 347.02,60.22 348.46,59.76 349.90,59.29 351.34,58.83 352.78,58.37 354.23,57.91 355.67,57.46 357.11,57.00 358.55,56.55 360.00,56.09 361.44,55.64 362.88,55.19 364.33,54.75 365.77,54.30 367.22,53.85 368.66,53.41 370.11,52.97 371.55,52.52 373.00,52.08 374.45,51.64 375.89,51.21 377.34,50.77 378.79,50.34 380.23,49.90 381.68,49.47 383.13,49.04 384.58,48.61 386.03,48.18 387.48,47.75 388.93,47.33 390.37,46.90 391.82,46.48 393.27,46.05 394.72,45.63 396.17,45.21 397.62,44.79 399.07,44.38 400.53,43.96 401.98,43.54 403.43,43.13 404.88,42.72 406.33,42.30 407.78,41.89 409.23,41.48 410.69,41.07 412.14,40.67 413.59,40.26 415.04,39.85 416.50,39.45 417.95,39.05 419.40,38.64 420.85,38.24 422.31,37.84 423.76,37.44 425.21,37.04 426.67,36.65 428.12,36.25 429.57,35.85 431.03,35.46 432.48,35.07 433.94,34.67 435.39,34.28 436.84,33.89 438.30,33.50 439.75,33.11 441.21,32.73 442.66,32.34 444.11,31.95 445.57,31.57 447.02,31.18 448.48,30.80 449.93,30.42 451.39,30.03 452.84,29.65 454.29,29.27 455.75,28.89 457.20,28.51 458.66,28.14 460.11,27.76 461.57,27.38 463.02,27.01 464.48,26.63 465.93,26.26 467.38,25.89 468.84,25.51 470.29,25.14 471.75,24.77 473.20,24.40" stroke="#808000"/>
</g>
<line x1="96" y1="54" x2="145.8" y2="82.4" stroke="#ffa500" stroke-width="1.3" stroke-dasharray="1.3,1.5"/>
<rect x="49.8" y="14.6" width="423.4" height="316.4" fill="none" class="ax"/>
<line x1="47.4" y1="331.00" x2="49.8" y2="331.00" class="ax"/>
<text x="43.4" y="334.50" text-anchor="end">0</text>
<line x1="47.4" y1="267.72" x2="49.8" y2="267.72" class="ax"/>
<text x="43.4" y="271.22" text-anchor="end">2000</text>
<line x1="47.4" y1="204.44" x2="49.8" y2="204.44" class="ax"/>
<text x="43.4" y="207.94" text-anchor="end">4000</text>
<line x1="47.4" y1="141.16" x2="49.8" y2="141.16" class="ax"/>
<text x="43.4" y="144.66" text-anchor="end">6000</text>
<line x1="47.4" y1="77.88" x2="49.8" y2="77.88" class="ax"/>
<text x="43.4" y="81.38" text-anchor="end">8000</text>
<line x1="47.4" y1="14.60" x2="49.8" y2="14.60" class="ax"/>
<text x="43.4" y="18.10" text-anchor="end">10,000</text>
<line x1="49.80" y1="331.0" x2="49.80" y2="333.4" class="ax"/>
<text x="49.60" y="343.70" text-anchor="middle">0</text>
<line x1="102.72" y1="331.0" x2="102.72" y2="333.4" class="ax"/>
<text x="103.92" y="343.70" text-anchor="middle">25,000</text>
<line x1="155.65" y1="331.0" x2="155.65" y2="333.4" class="ax"/>
<text x="156.85" y="343.70" text-anchor="middle">50,000</text>
<line x1="208.57" y1="331.0" x2="208.57" y2="333.4" class="ax"/>
<text x="209.77" y="343.70" text-anchor="middle">75,000</text>
<line x1="261.50" y1="331.0" x2="261.50" y2="333.4" class="ax"/>
<text x="262.70" y="343.70" text-anchor="middle">10,0000</text>
<line x1="314.43" y1="331.0" x2="314.43" y2="333.4" class="ax"/>
<text x="315.62" y="343.70" text-anchor="middle">125,000</text>
<line x1="367.35" y1="331.0" x2="367.35" y2="333.4" class="ax"/>
<text x="368.55" y="343.70" text-anchor="middle">150,000</text>
<line x1="420.27" y1="331.0" x2="420.27" y2="333.4" class="ax"/>
<text x="421.47" y="343.70" text-anchor="middle">175,000</text>
<line x1="473.20" y1="331.0" x2="473.20" y2="333.4" class="ax"/>
<text x="474.40" y="343.70" text-anchor="middle">200,000</text>
<text x="261.5" y="354.0" text-anchor="middle">number of reads mapping to the mouse genome</text>
<text transform="translate(11.3,172.8) rotate(-90)" text-anchor="middle">number of detected features</text>
<text x="66.6" y="51.4">HIVE CLX, frozen</text>
<text x="150.2" y="12.5">HIVE CLX</text>
<text x="209.8" y="12.5">Evercode WT Mini</text>
<text x="269.4" y="45.6">10X</text>
<text x="193.6" y="135.8">Smartseq3</text>
<text x="193.6" y="146.4">UMI</text>
<text x="331" y="101">Plexwell</text>
<text x="420" y="99.4">Sortseq</text>
<text x="477" y="26.4">Vasaseq</text>
<text x="477" y="37.4">HIVE</text>
<text x="477" y="47.9">HIVE, frozen</text>
<text x="477" y="64.4">FLASH-seq</text>
<text x="477" y="110.8">Smartseq3 body</text>
<g clip-path="url(#c378)" fill="none" stroke-width="1.85" stroke-linejoin="round" stroke-linecap="butt" opacity="1">
<path d="M64.90,606.10L65.44,604.68 65.98,603.27 66.53,601.85 67.08,600.45 67.64,599.04 68.21,597.64 68.78,596.23 69.36,594.84 69.94,593.44 70.53,592.05 71.13,590.66 71.73,589.27 72.33,587.88 72.94,586.50 73.56,585.12 74.18,583.74 74.80,582.37 75.43,580.99 76.07,579.62 76.71,578.25 77.35,576.89 78.00,575.52 78.65,574.16 79.31,572.80 79.98,571.44 80.64,570.09 81.32,568.74 81.99,567.38 82.67,566.04 83.36,564.69 84.05,563.34 84.74,562.00 85.43,560.66 86.13,559.32 86.84,557.98 87.55,556.65 88.26,555.31 88.97,553.98 89.69,552.65 90.41,551.32 91.14,550.00 91.87,548.67 92.60,547.35 93.33,546.03 94.07,544.71 94.81,543.39 95.56,542.07 96.30,540.75 97.05,539.44 97.81,538.13 98.56,536.82 99.32,535.50 100.08,534.20 100.84,532.89 101.61,531.58 102.38,530.28 103.15,528.97 103.92,527.67 104.69,526.37 105.47,525.07 106.25,523.77 107.03,522.47 107.81,521.17 108.60,519.88 109.38,518.58 110.17,517.29 110.96,515.99 111.75,514.70 112.54,513.41 113.33,512.12 114.13,510.83 114.92,509.54 115.72,508.25 116.52,506.96 117.32,505.67 118.12,504.38 118.92,503.10 119.72,501.81 120.53,500.53 121.33,499.24 122.13,497.96 122.94,496.67 123.74,495.39 124.55,494.11 125.35,492.82 126.16,491.54 126.97,490.26 127.77,488.98 128.58,487.69 129.39,486.41 130.19,485.13 131.00,483.85 131.81,482.57 132.61,481.29 133.42,480.01 134.22,478.72 135.03,477.44 135.83,476.16 136.64,474.88 137.44,473.60 138.24,472.32 139.04,471.04 139.84,469.75 140.64,468.47 141.44,467.19 142.24,465.91 143.04,464.62 143.83,463.34 144.63,462.05 145.42,460.77 146.21,459.49 147.00,458.20" stroke="#0000ff" stroke-opacity="0.7"/>
<path d="M54.70,647.50L55.56,646.20 56.43,644.91 57.30,643.62 58.18,642.33 59.06,641.05 59.94,639.76 60.83,638.48 61.72,637.21 62.61,635.93 63.51,634.66 64.41,633.39 65.32,632.12 66.22,630.85 67.13,629.59 68.05,628.33 68.97,627.07 69.89,625.81 70.81,624.56 71.74,623.31 72.67,622.06 73.60,620.81 74.54,619.56 75.48,618.32 76.42,617.08 77.37,615.84 78.31,614.61 79.26,613.37 80.22,612.14 81.17,610.91 82.13,609.68 83.09,608.46 84.06,607.23 85.02,606.01 85.99,604.79 86.96,603.57 87.94,602.36 88.91,601.14 89.89,599.93 90.87,598.72 91.85,597.51 92.84,596.31 93.83,595.10 94.82,593.90 95.81,592.70 96.80,591.50L101.40,587.80L102.77,587.15 104.15,586.51 105.52,585.86 106.89,585.21 108.26,584.57 109.64,583.92 111.01,583.27 112.38,582.62 113.75,581.98 115.13,581.33 116.50,580.68 117.87,580.04 119.25,579.39 120.62,578.74 121.99,578.09 123.37,577.45 124.74,576.80 126.11,576.15 127.49,575.51 128.86,574.86 130.23,574.22 131.61,573.57 132.98,572.93 134.36,572.28 135.73,571.64 137.11,570.99 138.48,570.35 139.86,569.70 141.23,569.06 142.61,568.42 143.99,567.78 145.36,567.13 146.74,566.49 148.12,565.85 149.49,565.21 150.87,564.57 152.25,563.93 153.63,563.29 155.00,562.66 156.38,562.02 157.76,561.38 159.14,560.75 160.52,560.11 161.90,559.48 163.28,558.84 164.66,558.21 166.04,557.58 167.42,556.95 168.80,556.32 170.18,555.69 171.57,555.06 172.95,554.43 174.33,553.80 175.72,553.18 177.10,552.55 178.48,551.93 179.87,551.31 181.25,550.68 182.64,550.06 184.03,549.44 185.41,548.83 186.80,548.21 188.19,547.59 189.58,546.98 190.96,546.36 192.35,545.75 193.74,545.14 195.13,544.53 196.52,543.92 197.92,543.31 199.31,542.71 200.70,542.10 202.09,541.50 203.49,540.89 204.88,540.29 206.27,539.69 207.67,539.10 209.06,538.50 210.46,537.91 211.86,537.31 213.26,536.72 214.65,536.13 216.05,535.54 217.45,534.95 218.85,534.37 220.25,533.78 221.65,533.20 223.06,532.62 224.46,532.04 225.86,531.47 227.27,530.89 228.67,530.32 230.08,529.75 231.48,529.18 232.89,528.61 234.30,528.04 235.71,527.48 237.12,526.92 238.53,526.36 239.94,525.80 241.35,525.24 242.76,524.69 244.18,524.13 245.59,523.58 247.01,523.04 248.42,522.49 249.84,521.94 251.26,521.40 252.67,520.86 254.09,520.33 255.51,519.79 256.93,519.26 258.35,518.73 259.78,518.20 261.20,517.67 262.63,517.15 264.05,516.62 265.48,516.11 266.90,515.59 268.33,515.07 269.76,514.56 271.19,514.05 272.62,513.54 274.05,513.04 275.49,512.54 276.92,512.04 278.35,511.54 279.79,511.04 281.23,510.55 282.67,510.06 284.10,509.58 285.54,509.09 286.98,508.61 288.43,508.13 289.87,507.66 291.31,507.18 292.76,506.71 294.20,506.24 295.65,505.78 297.10,505.32 298.55,504.86 300.00,504.40L316.40,499.40L324.00,495.60L325.46,495.14 326.92,494.69 328.38,494.23 329.84,493.77 331.30,493.31 332.75,492.85 334.21,492.38 335.67,491.92 337.13,491.46 338.58,490.99 340.04,490.53 341.50,490.06 342.95,489.60 344.41,489.13 345.87,488.66 347.32,488.19 348.78,487.72 350.23,487.25 351.69,486.78 353.15,486.31 354.60,485.84 356.06,485.37 357.51,484.90 358.97,484.43 360.42,483.96 361.87,483.49 363.33,483.01 364.78,482.54 366.24,482.07 367.69,481.60 369.15,481.12 370.60,480.65 372.06,480.18 373.51,479.71 374.97,479.23 376.42,478.76 377.88,478.29 379.33,477.82 380.79,477.35 382.24,476.87 383.70,476.40 385.15,475.93 386.61,475.46 388.06,474.99 389.52,474.52 390.97,474.05 392.43,473.58 393.88,473.12 395.34,472.65 396.80,472.18 398.25,471.71 399.71,471.25 401.17,470.78 402.62,470.32 404.08,469.86 405.54,469.39 407.00,468.93 408.46,468.47 409.91,468.01 411.37,467.55 412.83,467.09 414.29,466.64 415.75,466.18 417.21,465.72 418.67,465.27 420.13,464.82 421.59,464.37 423.06,463.92 424.52,463.47 425.98,463.02 427.44,462.57 428.91,462.13 430.37,461.68 431.84,461.24 433.30,460.80" stroke="#ff0000" stroke-opacity="0.7"/>
<path d="M56.70,624.50L57.05,623.02 57.40,621.54 57.77,620.06 58.13,618.59 58.51,617.12 58.89,615.65 59.27,614.18 59.66,612.72 60.06,611.26 60.47,609.80 60.87,608.34 61.29,606.89 61.71,605.43 62.14,603.98 62.57,602.53 63.01,601.09 63.45,599.64 63.90,598.20 64.35,596.76 64.81,595.32 65.27,593.89 65.74,592.46 66.22,591.02 66.70,589.60 67.18,588.17 67.67,586.74 68.17,585.32 68.67,583.90 69.18,582.48 69.69,581.06 70.20,579.65 70.72,578.23 71.25,576.82 71.77,575.41 72.31,574.00 72.85,572.60 73.39,571.19 73.94,569.79 74.49,568.39 75.04,566.99 75.61,565.59 76.17,564.20 76.74,562.81 77.31,561.41 77.89,560.02 78.47,558.63 79.06,557.25 79.65,555.86 80.24,554.48 80.84,553.10 81.44,551.72 82.05,550.34 82.65,548.96 83.27,547.58 83.88,546.21 84.50,544.83 85.13,543.46 85.75,542.09 86.38,540.72 87.02,539.36 87.66,537.99 88.30,536.62 88.94,535.26 89.59,533.90 90.24,532.54 90.89,531.18 91.55,529.82 92.21,528.46 92.87,527.11 93.54,525.75 94.21,524.40 94.88,523.05 95.55,521.70 96.23,520.35 96.91,519.00 97.59,517.65 98.27,516.30 98.96,514.96 99.65,513.61 100.34,512.27 101.04,510.93 101.74,509.59 102.44,508.24 103.14,506.90 103.84,505.57 104.55,504.23 105.26,502.89 105.97,501.56 106.68,500.22 107.39,498.89 108.11,497.55 108.83,496.22 109.55,494.89 110.27,493.56 110.99,492.23 111.72,490.90 112.45,489.57 113.17,488.24 113.90,486.91 114.64,485.58 115.37,484.26 116.10,482.93 116.84,481.61 117.58,480.28 118.31,478.96 119.05,477.64 119.79,476.31 120.54,474.99 121.28,473.67 122.02,472.35 122.77,471.03 123.51,469.71 124.26,468.39 125.01,467.07 125.75,465.75 126.50,464.43 127.25,463.11 128.00,461.79 128.75,460.47 129.50,459.16 130.26,457.84 131.01,456.52 131.76,455.21 132.51,453.89 133.27,452.57 134.02,451.26 134.77,449.94 135.53,448.62 136.28,447.31 137.03,445.99 137.79,444.68 138.54,443.36 139.30,442.05 140.05,440.73 140.80,439.41 141.56,438.10 142.31,436.78 143.06,435.47 143.81,434.15 144.56,432.84 145.31,431.52 146.07,430.20 146.82,428.89 147.56,427.57 148.31,426.26 149.06,424.94 149.81,423.62 150.55,422.31 151.30,420.99 152.04,419.67 152.79,418.35 153.53,417.04 154.27,415.72 155.01,414.40 155.75,413.08 156.49,411.76 157.23,410.44 157.96,409.12 158.69,407.80 159.43,406.48 160.16,405.16 160.89,403.83 161.62,402.51 162.34,401.19 163.07,399.87 163.79,398.54 164.51,397.22 165.23,395.89 165.95,394.57 166.66,393.24 167.38,391.91 168.09,390.58 168.80,389.26 169.51,387.93 170.21,386.60 170.92,385.27 171.62,383.93 172.32,382.60 173.01,381.27 173.71,379.93 174.40,378.60" stroke="#ffd700" stroke-opacity="0.7"/>
<path d="M73.60,578.20L74.72,577.23 75.84,576.26 76.96,575.28 78.08,574.30 79.19,573.31 80.31,572.32 81.42,571.33 82.54,570.33 83.65,569.32 84.76,568.32 85.87,567.31 86.99,566.30 88.10,565.28 89.21,564.26 90.32,563.24 91.43,562.22 92.54,561.20 93.65,560.17 94.76,559.14 95.87,558.11 96.98,557.08 98.09,556.05 99.21,555.01 100.32,553.98 101.43,552.94 102.54,551.91 103.66,550.87 104.77,549.83 105.89,548.80 107.00,547.76 108.12,546.73 109.24,545.69 110.36,544.66 111.48,543.62 112.60,542.59 113.72,541.56 114.85,540.53 115.97,539.50 117.10,538.48 118.23,537.45 119.36,536.43 120.49,535.41 121.63,534.39 122.77,533.38 123.90,532.37 125.05,531.36 126.19,530.36 127.33,529.36 128.48,528.36 129.63,527.36 130.78,526.38 131.94,525.39 133.10,524.41 134.26,523.43 135.42,522.46 136.59,521.50 137.76,520.53 138.93,519.58 140.10,518.63 141.28,517.68 142.46,516.75 143.65,515.81 144.83,514.89 146.03,513.97 147.22,513.05 148.42,512.15 149.62,511.25 150.83,510.36 152.04,509.47 153.25,508.59 154.47,507.72 155.69,506.86 156.92,506.01 158.15,505.16 159.38,504.33 160.62,503.50 161.86,502.68 163.11,501.87 164.36,501.07 165.62,500.27 166.88,499.49 168.15,498.72 169.42,497.96 170.70,497.20 171.98,496.46 173.27,495.73 174.56,495.01 175.86,494.30 177.16,493.60 178.47,492.91 179.78,492.23 181.10,491.57 182.42,490.92 183.75,490.27 185.09,489.64 186.43,489.03 187.78,488.42 189.13,487.83 190.49,487.25 191.86,486.69 193.23,486.13 194.61,485.59 195.99,485.07 197.39,484.56 198.78,484.06 200.19,483.57 201.60,483.10 203.01,482.63 204.43,482.18 205.86,481.75 207.29,481.32 208.72,480.90 210.16,480.50 211.61,480.11 213.06,479.72 214.51,479.35 215.97,478.98 217.44,478.63 218.90,478.28 220.37,477.95 221.84,477.62 223.32,477.30 224.80,476.99 226.28,476.68 227.77,476.39 229.26,476.10 230.75,475.81 232.24,475.54 233.74,475.27 235.24,475.00 236.74,474.74 238.24,474.49 239.74,474.24 241.25,474.00 242.75,473.76 244.26,473.52 245.77,473.29 247.27,473.06 248.78,472.84 250.29,472.62 251.80,472.40 253.31,472.18 254.82,471.97 256.33,471.76 257.84,471.55 259.35,471.34 260.86,471.13 262.36,470.93 263.87,470.73 265.38,470.53 266.89,470.33 268.40,470.13 269.90,469.93 271.41,469.74 272.92,469.55 274.42,469.36 275.93,469.17 277.44,468.98 278.94,468.80 280.45,468.61 281.95,468.43 283.46,468.25 284.96,468.08 286.47,467.90 287.98,467.72 289.48,467.55 290.98,467.38 292.49,467.21 293.99,467.04 295.50,466.87 297.00,466.71 298.51,466.54 300.01,466.38 301.51,466.22 303.02,466.06 304.52,465.90 306.02,465.75 307.53,465.59 309.03,465.44 310.53,465.29 312.04,465.14 313.54,464.99 315.04,464.84 316.54,464.69 318.05,464.55 319.55,464.41 321.05,464.26 322.55,464.12 324.06,463.98 325.56,463.85 327.06,463.71 328.56,463.58 330.06,463.44 331.57,463.31 333.07,463.18 334.57,463.05 336.07,462.92 337.57,462.79 339.08,462.67 340.58,462.54 342.08,462.42 343.58,462.29 345.08,462.17 346.58,462.05 348.08,461.93 349.59,461.82 351.09,461.70 352.59,461.58 354.09,461.47 355.59,461.36 357.09,461.24 358.59,461.13 360.10,461.02 361.60,460.91 363.10,460.81 364.60,460.70 366.10,460.59 367.60,460.49 369.11,460.38 370.61,460.28 372.11,460.18 373.61,460.08 375.11,459.98 376.61,459.88 378.12,459.78 379.62,459.69 381.12,459.59 382.62,459.49 384.12,459.40 385.63,459.31 387.13,459.21 388.63,459.12 390.13,459.03 391.64,458.94 393.14,458.85 394.64,458.76 396.14,458.68 397.65,458.59 399.15,458.50 400.65,458.42 402.16,458.33 403.66,458.25 405.16,458.17 406.67,458.08 408.17,458.00 409.67,457.92 411.18,457.84 412.68,457.76 414.19,457.68 415.69,457.61 417.19,457.53 418.70,457.45 420.20,457.37 421.71,457.30 423.21,457.22 424.72,457.15 426.23,457.08 427.73,457.00 429.24,456.93 430.74,456.86 432.25,456.78 433.76,456.71 435.26,456.64 436.77,456.57 438.28,456.50 439.78,456.43 441.29,456.36 442.80,456.30 444.31,456.23 445.81,456.16 447.32,456.09 448.83,456.03 450.34,455.96 451.85,455.89 453.36,455.83 454.87,455.76 456.38,455.70 457.89,455.63 459.40,455.57 460.91,455.50 462.42,455.44 463.93,455.38 465.44,455.31 466.95,455.25 468.46,455.19 469.98,455.12 471.49,455.06 473.00,455.00" stroke="#008000" stroke-opacity="0.7"/>
<path d="M56.70,624.50L57.03,623.01 57.37,621.53 57.71,620.04 58.06,618.56 58.41,617.09 58.78,615.61 59.15,614.14 59.53,612.67 59.91,611.20 60.30,609.74 60.70,608.28 61.10,606.82 61.52,605.36 61.93,603.91 62.36,602.46 62.79,601.01 63.22,599.56 63.67,598.12 64.12,596.68 64.57,595.24 65.03,593.80 65.50,592.36 65.97,590.93 66.45,589.50 66.94,588.07 67.43,586.65 67.92,585.22 68.43,583.80 68.93,582.38 69.45,580.97 69.97,579.55 70.49,578.14 71.02,576.73 71.56,575.32 72.10,573.92 72.64,572.51 73.19,571.11 73.75,569.71 74.31,568.31 74.88,566.92 75.45,565.52 76.02,564.13 76.60,562.74 77.19,561.35 77.78,559.97 78.37,558.58 78.97,557.20 79.57,555.82 80.18,554.44 80.79,553.06 81.41,551.69 82.03,550.32 82.66,548.94 83.29,547.57 83.92,546.20 84.56,544.84 85.20,543.47 85.84,542.11 86.49,540.75 87.15,539.39 87.80,538.03 88.46,536.67 89.13,535.32 89.80,533.96 90.47,532.61 91.14,531.26 91.82,529.91 92.50,528.56 93.19,527.22 93.87,525.87 94.56,524.53 95.26,523.18 95.96,521.84 96.66,520.50 97.36,519.16 98.07,517.83 98.77,516.49 99.49,515.16 100.20,513.82 100.92,512.49 101.64,511.16 102.36,509.83 103.08,508.50 103.81,507.17 104.54,505.85 105.27,504.52 106.00,503.20 106.74,501.87 107.48,500.55 108.22,499.23 108.96,497.91 109.70,496.59 110.45,495.27 111.20,493.95 111.95,492.64 112.70,491.32 113.45,490.01 114.21,488.69 114.96,487.38 115.72,486.07 116.48,484.76 117.24,483.45 118.00,482.14 118.76,480.83 119.53,479.52 120.29,478.21 121.06,476.90 121.82,475.60 122.59,474.29 123.36,472.99 124.13,471.68 124.90,470.38 125.67,469.07 126.44,467.77 127.22,466.47 127.99,465.17 128.76,463.87 129.54,462.56 130.31,461.26 131.09,459.96 131.86,458.66 132.64,457.37 133.41,456.07 134.19,454.77 134.96,453.47 135.74,452.17 136.51,450.87 137.29,449.58 138.06,448.28 138.83,446.98 139.61,445.69 140.38,444.39 141.16,443.09 141.93,441.80 142.70,440.50" stroke="#ffa500" stroke-opacity="0.7"/>
<path d="M65.40,615.30L66.10,613.95 66.81,612.61 67.52,611.27 68.24,609.93 68.96,608.60 69.69,607.27 70.42,605.94 71.16,604.62 71.90,603.30 72.64,601.98 73.39,600.67 74.14,599.35 74.90,598.05 75.66,596.74 76.43,595.44 77.20,594.14 77.98,592.85 78.76,591.56 79.54,590.27 80.33,588.98 81.12,587.70 81.91,586.42 82.71,585.14 83.52,583.87 84.33,582.60 85.14,581.33 85.95,580.06 86.77,578.80 87.59,577.54 88.42,576.28 89.25,575.03 90.09,573.78 90.93,572.53 91.77,571.28 92.61,570.04 93.46,568.80 94.31,567.56 95.17,566.33 96.03,565.09 96.89,563.86 97.76,562.63 98.63,561.41 99.50,560.19 100.38,558.97 101.26,557.75 102.14,556.53 103.03,555.32 103.92,554.11 104.81,552.90 105.71,551.69 106.61,550.49 107.51,549.29 108.41,548.09 109.32,546.89 110.23,545.70 111.15,544.50 112.06,543.31 112.98,542.12 113.91,540.94 114.83,539.75 115.76,538.57 116.69,537.39 117.62,536.21 118.56,535.03 119.50,533.86 120.44,532.69 121.38,531.52 122.33,530.35 123.28,529.18 124.23,528.01 125.18,526.85 126.14,525.69 127.10,524.53 128.06,523.37 129.02,522.21 129.99,521.06 130.96,519.91 131.93,518.76 132.90,517.61 133.87,516.46 134.85,515.31 135.83,514.17 136.81,513.02 137.79,511.88 138.77,510.74 139.76,509.60 140.75,508.46 141.74,507.33 142.73,506.19 143.72,505.06 144.72,503.92 145.72,502.79 146.71,501.66 147.71,500.54 148.72,499.41 149.72,498.28 150.72,497.16 151.73,496.03 152.74,494.91 153.75,493.79 154.76,492.67 155.77,491.55 156.79,490.43 157.80,489.31 158.82,488.20 159.83,487.08 160.85,485.97 161.87,484.85 162.89,483.74 163.92,482.63 164.94,481.52 165.96,480.41 166.99,479.30 168.02,478.19 169.04,477.08 170.07,475.98 171.10,474.87 172.13,473.76 173.16,472.66 174.19,471.56 175.23,470.45 176.26,469.35 177.29,468.25 178.33,467.14 179.36,466.04 180.40,464.94 181.43,463.84 182.47,462.74 183.51,461.64 184.54,460.54 185.58,459.44 186.62,458.34 187.66,457.25 188.70,456.15 189.74,455.05 190.78,453.95 191.82,452.86 192.86,451.76 193.90,450.66 194.94,449.56 195.98,448.47 197.02,447.37 198.06,446.28 199.10,445.18 200.14,444.08 201.18,442.99 202.22,441.89 203.26,440.79 204.30,439.70 205.34,438.60 206.38,437.50 207.41,436.41 208.45,435.31 209.49,434.21 210.53,433.12 211.57,432.02 212.60,430.92 213.64,429.82 214.67,428.72 215.71,427.63 216.74,426.53 217.78,425.43 218.81,424.33 219.84,423.23 220.88,422.13 221.91,421.03 222.94,419.92 223.97,418.82 225.00,417.72 226.02,416.62 227.05,415.51 228.08,414.41 229.10,413.30 230.13,412.20 231.15,411.09 232.17,409.98 233.19,408.88 234.21,407.77 235.23,406.66 236.25,405.55 237.26,404.44 238.28,403.32 239.29,402.21 240.30,401.10 241.31,399.98 242.32,398.87 243.33,397.75 244.33,396.63 245.34,395.52 246.34,394.40 247.34,393.28 248.34,392.15 249.34,391.03 250.34,389.91 251.33,388.78 252.33,387.66 253.32,386.53 254.31,385.40 255.29,384.27 256.28,383.14 257.26,382.01 258.24,380.87 259.22,379.74 260.20,378.60" stroke="#800080" stroke-opacity="0.7"/>
<path d="M64.90,618.40L65.86,617.22 66.83,616.05 67.80,614.88 68.77,613.72 69.75,612.55 70.73,611.39 71.71,610.24 72.70,609.09 73.69,607.94 74.69,606.80 75.69,605.66 76.69,604.52 77.70,603.39 78.71,602.27 79.73,601.14 80.75,600.02 81.77,598.91 82.80,597.80 83.83,596.69 84.86,595.59 85.90,594.49 86.94,593.39 87.99,592.30 89.04,591.22 90.09,590.13 91.15,589.06 92.21,587.98 93.27,586.91 94.34,585.85 95.41,584.79 96.48,583.73 97.56,582.68 98.65,581.63 99.73,580.59 100.82,579.55 101.92,578.51 103.01,577.48 104.11,576.45 105.22,575.43 106.33,574.42 107.44,573.40 108.55,572.39 109.67,571.39 110.80,570.39 111.92,569.40 113.05,568.41 114.18,567.42 115.32,566.44 116.46,565.46 117.61,564.49 118.75,563.53 119.91,562.56 121.06,561.61 122.22,560.65 123.38,559.71 124.55,558.76 125.71,557.83 126.89,556.89 128.06,555.96 129.24,555.04 130.42,554.12 131.61,553.21 132.80,552.30 133.99,551.39 135.19,550.49 136.39,549.60 137.60,548.71 138.80,547.83 140.01,546.95 141.23,546.07 142.44,545.20 143.67,544.34 144.89,543.48 146.12,542.63 147.35,541.78 148.58,540.93 149.82,540.10 151.06,539.26 152.31,538.43 153.55,537.61 154.81,536.79 156.06,535.98 157.32,535.17 158.58,534.37 159.84,533.58 161.11,532.79 162.38,532.00 163.66,531.22 164.94,530.44 166.22,529.68 167.50,528.91 168.79,528.15 170.08,527.40 171.38,526.65 172.67,525.91 173.97,525.17 175.28,524.44 176.59,523.72 177.90,523.00 179.21,522.28 180.53,521.57 181.85,520.87 183.17,520.17 184.49,519.47 185.82,518.78 187.15,518.10 188.49,517.42 189.82,516.74 191.16,516.07 192.50,515.41 193.85,514.74 195.19,514.09 196.54,513.43 197.89,512.78 199.25,512.14 200.60,511.50 201.96,510.86 203.32,510.23 204.69,509.60 206.05,508.98 207.42,508.35 208.79,507.74 210.16,507.12 211.53,506.51 212.91,505.91 214.28,505.30 215.66,504.70 217.04,504.10 218.42,503.51 219.81,502.92 221.19,502.33 222.58,501.75 223.97,501.17 225.36,500.59 226.75,500.01 228.14,499.44 229.54,498.87 230.93,498.30 232.33,497.73 233.72,497.17 235.12,496.61 236.52,496.05 237.92,495.49 239.33,494.94 240.73,494.39 242.13,493.84 243.54,493.29 244.94,492.74 246.35,492.20 247.76,491.66 249.16,491.11 250.57,490.57 251.98,490.04 253.39,489.50 254.80,488.96 256.21,488.43 257.62,487.90 259.04,487.36 260.45,486.83 261.86,486.30 263.28,485.77 264.69,485.25 266.10,484.72 267.52,484.19 268.93,483.67 270.35,483.14 271.76,482.62 273.17,482.09 274.59,481.57 276.00,481.05 277.42,480.52 278.83,480.00 280.25,479.48 281.66,478.95 283.08,478.43 284.49,477.91 285.91,477.39 287.32,476.86 288.74,476.34 290.15,475.82 291.57,475.30 292.98,474.78 294.39,474.26 295.81,473.73 297.22,473.21 298.64,472.69 300.05,472.17 301.47,471.65 302.88,471.13 304.29,470.61 305.71,470.09 307.12,469.56 308.53,469.04 309.95,468.52 311.36,468.00 312.78,467.48 314.19,466.96 315.60,466.44 317.02,465.92 318.43,465.40 319.84,464.88 321.25,464.36 322.67,463.84 324.08,463.31 325.49,462.79 326.91,462.27 328.32,461.75 329.73,461.23 331.14,460.71 332.56,460.19 333.97,459.66 335.38,459.14 336.79,458.62 338.20,458.10 339.62,457.58 341.03,457.06 342.44,456.53 343.85,456.01 345.26,455.49 346.67,454.96 348.08,454.44 349.50,453.92 350.91,453.40 352.32,452.87 353.73,452.35 355.14,451.82 356.55,451.30 357.96,450.78 359.37,450.25 360.78,449.73 362.19,449.20 363.60,448.68 365.01,448.15 366.42,447.62 367.83,447.10 369.24,446.57 370.64,446.04 372.05,445.52 373.46,444.99 374.87,444.46 376.28,443.93 377.69,443.41 379.10,442.88 380.50,442.35 381.91,441.82 383.32,441.29 384.73,440.76 386.13,440.23 387.54,439.70 388.95,439.17 390.35,438.63 391.76,438.10 393.17,437.57 394.57,437.04 395.98,436.50 397.39,435.97 398.79,435.43 400.20,434.90 401.60,434.37 403.01,433.83 404.41,433.29 405.82,432.76 407.22,432.22 408.63,431.68 410.03,431.14 411.44,430.61 412.84,430.07 414.24,429.53 415.65,428.99 417.05,428.45 418.45,427.91 419.86,427.36 421.26,426.82 422.66,426.28 424.06,425.74 425.47,425.19 426.87,424.65 428.27,424.10 429.67,423.56 431.07,423.01 432.47,422.46 433.87,421.92 435.27,421.37 436.67,420.82 438.08,420.27 439.47,419.72 440.87,419.17 442.27,418.62 443.67,418.06 445.07,417.51 446.47,416.96 447.87,416.40 449.27,415.85 450.67,415.29 452.06,414.74 453.46,414.18 454.86,413.62 456.26,413.06 457.65,412.50 459.05,411.94 460.44,411.38 461.84,410.82 463.24,410.26 464.63,409.70 466.03,409.13 467.42,408.57 468.82,408.00 470.21,407.43 471.61,406.87 473.00,406.30" stroke="#a52a2a" stroke-opacity="0.7"/>
<path d="M50.90,675.50L51.06,673.99 51.23,672.49 51.40,670.99 51.57,669.48 51.75,667.98 51.93,666.48 52.12,664.98 52.31,663.48 52.50,661.98 52.70,660.48 52.90,658.98 53.10,657.49 53.31,655.99 53.52,654.50 53.73,653.00 53.95,651.51 54.17,650.01 54.39,648.52 54.62,647.03 54.85,645.53 55.09,644.04 55.32,642.55 55.56,641.06 55.81,639.57 56.05,638.08 56.30,636.59 56.56,635.11 56.81,633.62 57.07,632.13 57.33,630.65 57.60,629.16 57.87,627.68 58.14,626.19 58.41,624.71 58.69,623.22 58.97,621.74 59.25,620.26 59.54,618.78 59.82,617.30 60.11,615.81 60.41,614.33 60.70,612.85 61.00,611.38 61.30,609.90 61.61,608.42 61.91,606.94 62.22,605.46 62.53,603.99 62.84,602.51 63.16,601.03 63.48,599.56 63.80,598.08 64.12,596.61 64.45,595.14 64.77,593.66 65.10,592.19 65.43,590.72 65.77,589.24 66.10,587.77 66.44,586.30 66.78,584.83 67.12,583.36 67.47,581.89 67.81,580.42 68.16,578.95 68.51,577.48 68.86,576.01 69.22,574.54 69.57,573.07 69.93,571.60 70.29,570.14 70.65,568.67 71.01,567.20 71.37,565.73 71.74,564.27 72.11,562.80 72.48,561.34 72.85,559.87 73.22,558.41 73.59,556.94 73.97,555.48 74.34,554.01 74.72,552.55 75.10,551.08 75.48,549.62 75.86,548.16 76.24,546.69 76.63,545.23 77.01,543.77 77.40,542.31 77.78,540.84 78.17,539.38 78.56,537.92 78.95,536.46 79.35,535.00 79.74,533.54 80.13,532.08 80.53,530.61 80.92,529.15 81.32,527.69 81.71,526.23 82.11,524.77 82.51,523.31 82.91,521.85 83.31,520.39 83.71,518.93 84.11,517.48 84.51,516.02 84.92,514.56 85.32,513.10 85.72,511.64 86.13,510.18 86.53,508.72 86.94,507.26 87.34,505.80 87.75,504.35 88.16,502.89 88.56,501.43 88.97,499.97 89.38,498.51 89.78,497.06 90.19,495.60 90.60,494.14 91.01,492.68 91.41,491.22 91.82,489.77 92.23,488.31 92.64,486.85 93.05,485.39 93.45,483.93 93.86,482.48 94.27,481.02 94.68,479.56 95.08,478.10 95.49,476.64 95.90,475.19 96.31,473.73 96.71,472.27 97.12,470.81 97.52,469.35 97.93,467.90 98.33,466.44 98.74,464.98 99.14,463.52 99.55,462.06 99.95,460.60 100.35,459.14 100.75,457.69 101.15,456.23 101.55,454.77 101.95,453.31 102.35,451.85 102.75,450.39 103.15,448.93 103.54,447.47 103.94,446.01 104.34,444.55 104.73,443.09 105.12,441.63 105.51,440.17 105.91,438.71 106.30,437.25 106.68,435.79 107.07,434.33 107.46,432.86 107.84,431.40 108.23,429.94 108.61,428.48 108.99,427.02 109.37,425.55 109.75,424.09 110.13,422.63 110.51,421.16 110.88,419.70 111.26,418.24 111.63,416.77 112.00,415.31 112.37,413.84 112.74,412.38 113.10,410.91 113.47,409.45 113.83,407.98 114.19,406.52 114.55,405.05 114.91,403.59 115.27,402.12 115.62,400.65 115.97,399.18 116.32,397.72 116.67,396.25 117.02,394.78 117.37,393.31 117.71,391.84 118.05,390.37 118.39,388.90 118.72,387.43 119.06,385.96 119.39,384.49 119.72,383.02 120.05,381.55 120.38,380.07 120.70,378.60" stroke="#ff00ff" stroke-opacity="0.7"/>
<path d="M76.20,584.00L77.46,583.20 78.71,582.39 79.95,581.57 81.19,580.73 82.41,579.89 83.63,579.03 84.84,578.16 86.05,577.29 87.24,576.40 88.43,575.50 89.62,574.60 90.80,573.68 91.97,572.76 93.14,571.83 94.31,570.89 95.47,569.95 96.62,569.00 97.78,568.05 98.93,567.08 100.07,566.12 101.22,565.15 102.36,564.17 103.50,563.19 104.64,562.21 105.77,561.22 106.90,560.23 108.04,559.23 109.17,558.23 110.29,557.23 111.42,556.23 112.54,555.22 113.67,554.21 114.79,553.20 115.91,552.18 117.03,551.17 118.15,550.15 119.27,549.13 120.39,548.11 121.51,547.09 122.63,546.06 123.75,545.04 124.86,544.01 125.98,542.99 127.10,541.96 128.22,540.94 129.34,539.91 130.46,538.89 131.58,537.86 132.70,536.84 133.82,535.82 134.95,534.80 136.07,533.78 137.20,532.76 138.33,531.74 139.45,530.73 140.59,529.71 141.72,528.70 142.85,527.70 143.99,526.69 145.13,525.69 146.27,524.69 147.41,523.69 148.56,522.70 149.71,521.71 150.86,520.73 152.02,519.75 153.17,518.77 154.34,517.80 155.50,516.83 156.67,515.87 157.84,514.91 159.01,513.96 160.19,513.01 161.38,512.07 162.56,511.14 163.76,510.21 164.95,509.28 166.15,508.37 167.36,507.46 168.56,506.55 169.78,505.66 171.00,504.77 172.22,503.89 173.45,503.01 174.68,502.15 175.92,501.29 177.17,500.44 178.42,499.60 179.68,498.76 180.94,497.94 182.21,497.12 183.48,496.32 184.76,495.52 186.05,494.73 187.34,493.95 188.64,493.18 189.94,492.42 191.25,491.67 192.56,490.93 193.88,490.20 195.20,489.48 196.53,488.77 197.87,488.07 199.21,487.38 200.55,486.70 201.90,486.03 203.25,485.37 204.61,484.73 205.98,484.09 207.35,483.46 208.72,482.85 210.10,482.25 211.48,481.65 212.87,481.07 214.26,480.50 215.66,479.95 217.06,479.40 218.46,478.87 219.87,478.35 221.28,477.84 222.70,477.34 224.12,476.86 225.55,476.38 226.98,475.92 228.41,475.48 229.85,475.04 231.29,474.62 232.74,474.21 234.19,473.81 235.64,473.42 237.09,473.05 238.55,472.68 240.01,472.32 241.47,471.98 242.94,471.64 244.41,471.31 245.87,470.99 247.35,470.67 248.82,470.37 250.30,470.07 251.77,469.78 253.25,469.49 254.73,469.21 256.21,468.93 257.69,468.66 259.17,468.40 260.66,468.14 262.14,467.88 263.63,467.63 265.11,467.39 266.60,467.15 268.09,466.91 269.57,466.68 271.06,466.46 272.55,466.24 274.04,466.02 275.54,465.81 277.03,465.60 278.52,465.40 280.02,465.20 281.51,465.00 283.01,464.81 284.50,464.63 286.00,464.44 287.50,464.27 289.00,464.09 290.50,463.92 292.00,463.75 293.50,463.59 295.00,463.43 296.50,463.28 298.00,463.12 299.51,462.97 301.01,462.83 302.51,462.69 304.02,462.55 305.53,462.41 307.03,462.28 308.54,462.15 310.04,462.02 311.55,461.90 313.06,461.78 314.57,461.66 316.08,461.55 317.59,461.44 319.10,461.33 320.61,461.22 322.12,461.12 323.63,461.02 325.14,460.92 326.65,460.82 328.16,460.73 329.68,460.63 331.19,460.54 332.70,460.45 334.22,460.37 335.73,460.28 337.24,460.20 338.76,460.12 340.27,460.04 341.79,459.97 343.30,459.89 344.82,459.82 346.33,459.75 347.85,459.68 349.37,459.61 350.88,459.54 352.40,459.47 353.91,459.41 355.43,459.34 356.95,459.28 358.46,459.22 359.98,459.16 361.50,459.10 363.01,459.04 364.53,458.98 366.05,458.92 367.56,458.86 369.08,458.81 370.60,458.75 372.11,458.69 373.63,458.64 375.15,458.58 376.67,458.53 378.18,458.47 379.70,458.42 381.21,458.37 382.73,458.31 384.25,458.26 385.76,458.20 387.28,458.15 388.79,458.09 390.31,458.04 391.83,457.98 393.34,457.93 394.86,457.87 396.37,457.81 397.88,457.76 399.40,457.70 400.91,457.64 402.43,457.58 403.94,457.52 405.45,457.46 406.97,457.39 408.48,457.33 409.99,457.26 411.50,457.20 413.01,457.13 414.52,457.06 416.03,456.99 417.54,456.92 419.05,456.85 420.56,456.77 422.07,456.70 423.58,456.62 425.09,456.54 426.59,456.46 428.10,456.38 429.61,456.29 431.11,456.21 432.62,456.12 434.12,456.02 435.63,455.93 437.13,455.84 438.63,455.74 440.13,455.64 441.64,455.53 443.14,455.43 444.64,455.32 446.14,455.21 447.64,455.10 449.13,454.98 450.63,454.86 452.13,454.74 453.62,454.62 455.12,454.49 456.61,454.36 458.11,454.22 459.60,454.09 461.09,453.95 462.58,453.80 464.07,453.66 465.56,453.51 467.05,453.35 468.54,453.19 470.03,453.03 471.51,452.87 473.00,452.70" stroke="#00ff00" stroke-opacity="0.7"/>
<path d="M54.00,649.80L54.64,648.43 55.28,647.06 55.92,645.68 56.57,644.31 57.21,642.94 57.86,641.57 58.51,640.21 59.16,638.84 59.81,637.47 60.46,636.11 61.12,634.75 61.78,633.39 62.44,632.03 63.10,630.67 63.77,629.31 64.44,627.96 65.12,626.60 65.79,625.25 66.47,623.91 67.16,622.56 67.84,621.22 68.53,619.87 69.23,618.53 69.93,617.20 70.63,615.86 71.34,614.53 72.05,613.20 72.76,611.88 73.48,610.56 74.21,609.24 74.94,607.92 75.68,606.61 76.42,605.30 77.16,603.99 77.91,602.69 78.67,601.39 79.43,600.09 80.20,598.80 80.97,597.51 81.75,596.23 82.54,594.95 83.33,593.67 84.13,592.40 84.93,591.13 85.74,589.86 86.55,588.60 87.37,587.34 88.19,586.08 89.02,584.83 89.85,583.58 90.69,582.34 91.54,581.09 92.39,579.86 93.24,578.62 94.10,577.39 94.97,576.16 95.84,574.94 96.71,573.72 97.59,572.50 98.48,571.29 99.37,570.08 100.26,568.87 101.16,567.67 102.07,566.47 102.98,565.27 103.89,564.07 104.81,562.88 105.73,561.70 106.66,560.51 107.59,559.33 108.53,558.15 109.47,556.98 110.41,555.81 111.36,554.64 112.31,553.47 113.27,552.31 114.23,551.15 115.20,549.99 116.17,548.84 117.14,547.69 118.12,546.54 119.10,545.40 120.08,544.25 121.07,543.11 122.06,541.97 123.05,540.84 124.05,539.70 125.05,538.57 126.05,537.45 127.06,536.32 128.07,535.20 129.08,534.07 130.10,532.95 131.12,531.84 132.14,530.72 133.16,529.61 134.19,528.50 135.22,527.39 136.25,526.28 137.28,525.18 138.32,524.07 139.36,522.97 140.40,521.87 141.44,520.77 142.49,519.67 143.53,518.58 144.58,517.48 145.63,516.39 146.68,515.30 147.74,514.21 148.79,513.12 149.85,512.03 150.90,510.95 151.96,509.86 153.02,508.78 154.09,507.69 155.15,506.61 156.21,505.53 157.28,504.45 158.34,503.37 159.41,502.29 160.48,501.22 161.55,500.14 162.62,499.06 163.69,497.99 164.76,496.91 165.83,495.84 166.90,494.76 167.97,493.69 169.04,492.62 170.11,491.55 171.18,490.47 172.26,489.40 173.33,488.33 174.40,487.26 175.47,486.19 176.54,485.12 177.61,484.04 178.68,482.97 179.75,481.90 180.82,480.83 181.89,479.76 182.96,478.69 184.02,477.61 185.09,476.54 186.16,475.47 187.22,474.40 188.28,473.32 189.35,472.25 190.41,471.17 191.47,470.10 192.53,469.02 193.58,467.95 194.64,466.87 195.69,465.79 196.74,464.71 197.79,463.63 198.84,462.55 199.89,461.47 200.94,460.39 201.98,459.30 203.02,458.22 204.06,457.13 205.09,456.05 206.13,454.96 207.16,453.87 208.19,452.78 209.22,451.68 210.24,450.59 211.26,449.49 212.28,448.40 213.30,447.30" stroke="#000000" stroke-opacity="0.7"/>
<path d="M54.00,673.50L54.37,672.02 54.76,670.53 55.14,669.05 55.54,667.58 55.94,666.11 56.35,664.64 56.77,663.17 57.19,661.71 57.62,660.25 58.05,658.79 58.50,657.34 58.95,655.89 59.40,654.44 59.86,653.00 60.33,651.55 60.81,650.12 61.29,648.68 61.78,647.25 62.27,645.82 62.77,644.39 63.28,642.96 63.79,641.54 64.31,640.12 64.83,638.71 65.36,637.29 65.89,635.88 66.44,634.47 66.98,633.07 67.54,631.67 68.09,630.27 68.66,628.87 69.23,627.47 69.80,626.08 70.38,624.69 70.97,623.30 71.56,621.92 72.15,620.53 72.75,619.15 73.36,617.78 73.97,616.40 74.59,615.03 75.21,613.66 75.84,612.29 76.47,610.92 77.10,609.56 77.74,608.20 78.39,606.84 79.04,605.48 79.69,604.12 80.35,602.77 81.02,601.42 81.69,600.07 82.36,598.72 83.04,597.38 83.72,596.04 84.40,594.70 85.09,593.36 85.79,592.02 86.48,590.69 87.19,589.35 87.89,588.02 88.60,586.69 89.31,585.37 90.03,584.04 90.75,582.72 91.48,581.39 92.21,580.07 92.94,578.76 93.67,577.44 94.41,576.12 95.16,574.81 95.90,573.50 96.65,572.19 97.40,570.88 98.16,569.57 98.92,568.27 99.68,566.96 100.45,565.66 101.21,564.36 101.99,563.06 102.76,561.76 103.54,560.47 104.32,559.17 105.10,557.88 105.88,556.58 106.67,555.29 107.46,554.00 108.26,552.71 109.05,551.43 109.85,550.14 110.65,548.86 111.45,547.57 112.26,546.29 113.06,545.01 113.87,543.73 114.68,542.45 115.50,541.17 116.31,539.89 117.13,538.62 117.95,537.34 118.77,536.07 119.60,534.79 120.42,533.52 121.25,532.25 122.07,530.98 122.90,529.71 123.74,528.44 124.57,527.17 125.40,525.90 126.24,524.64 127.07,523.37 127.91,522.11 128.75,520.84 129.59,519.58 130.43,518.31 131.28,517.05 132.12,515.79 132.97,514.53 133.81,513.27 134.66,512.01 135.50,510.75 136.35,509.49 137.20,508.23 138.05,506.97 138.90,505.71 139.75,504.46 140.60,503.20 141.45,501.94 142.30,500.69 143.16,499.43 144.01,498.17 144.86,496.92 145.71,495.66 146.57,494.41 147.42,493.15 148.27,491.90 149.13,490.64 149.98,489.39 150.83,488.13 151.68,486.88 152.54,485.63 153.39,484.37 154.24,483.12 155.09,481.86 155.94,480.61 156.79,479.35 157.64,478.10 158.49,476.84 159.34,475.59 160.18,474.33 161.03,473.08 161.88,471.82 162.72,470.57 163.56,469.31 164.41,468.06 165.25,466.80 166.09,465.54 166.93,464.29 167.77,463.03 168.60,461.77 169.44,460.51 170.28,459.25 171.11,458.00 171.94,456.74 172.77,455.48 173.60,454.22 174.42,452.95 175.25,451.69 176.07,450.43 176.89,449.17 177.71,447.90 178.53,446.64 179.35,445.38 180.16,444.11 180.97,442.84 181.78,441.58 182.59,440.31 183.40,439.04 184.20,437.77 185.00,436.50" stroke="#ffff00" stroke-opacity="0.7"/>
<path d="M72.30,594.50L73.49,593.58 74.67,592.65 75.85,591.71 77.01,590.76 78.17,589.80 79.32,588.84 80.47,587.86 81.61,586.88 82.74,585.89 83.86,584.90 84.98,583.90 86.09,582.89 87.20,581.87 88.30,580.85 89.40,579.83 90.50,578.80 91.58,577.76 92.67,576.72 93.75,575.68 94.83,574.63 95.90,573.58 96.97,572.52 98.04,571.46 99.11,570.40 100.17,569.33 101.23,568.27 102.29,567.20 103.35,566.13 104.41,565.05 105.46,563.98 106.52,562.91 107.58,561.83 108.63,560.76 109.69,559.68 110.75,558.61 111.80,557.53 112.86,556.46 113.92,555.39 114.98,554.31 116.05,553.25 117.11,552.18 118.18,551.11 119.25,550.05 120.33,548.99 121.40,547.94 122.48,546.88 123.57,545.83 124.66,544.79 125.75,543.75 126.85,542.71 127.95,541.68 129.05,540.65 130.16,539.63 131.27,538.61 132.39,537.59 133.51,536.58 134.63,535.57 135.76,534.57 136.89,533.57 138.03,532.57 139.16,531.58 140.31,530.59 141.45,529.61 142.60,528.63 143.76,527.66 144.91,526.69 146.07,525.72 147.24,524.76 148.40,523.80 149.57,522.85 150.75,521.90 151.93,520.96 153.11,520.02 154.29,519.08 155.48,518.15 156.67,517.22 157.86,516.30 159.06,515.38 160.26,514.46 161.46,513.55 162.67,512.65 163.88,511.75 165.09,510.85 166.31,509.96 167.53,509.07 168.75,508.19 169.98,507.31 171.20,506.43 172.43,505.56 173.67,504.69 174.90,503.83 176.14,502.98 177.39,502.12 178.63,501.28 179.88,500.43 181.13,499.59 182.38,498.76 183.64,497.93 184.90,497.10 186.16,496.28 187.42,495.46 188.69,494.65 189.96,493.84 191.23,493.04 192.50,492.24 193.78,491.44 195.06,490.65 196.34,489.86 197.62,489.08 198.91,488.30 200.20,487.52 201.49,486.75 202.78,485.98 204.07,485.21 205.37,484.45 206.67,483.70 207.97,482.94 209.28,482.19 210.58,481.45 211.89,480.70 213.20,479.97 214.52,479.23 215.83,478.50 217.15,477.77 218.47,477.04 219.79,476.32 221.11,475.60 222.44,474.89 223.76,474.18 225.09,473.47 226.42,472.76 227.75,472.06 229.09,471.36 230.43,470.66 231.76,469.97 233.10,469.28 234.44,468.59 235.79,467.91 237.13,467.22 238.48,466.55 239.83,465.87 241.18,465.20 242.53,464.53 243.88,463.86 245.23,463.19 246.59,462.53 247.95,461.87 249.31,461.21 250.67,460.55 252.03,459.90 253.39,459.25 254.76,458.60 256.12,457.96 257.49,457.31 258.86,456.67 260.23,456.03 261.60,455.40 262.97,454.76 264.35,454.13 265.72,453.50 267.10,452.87 268.47,452.24 269.85,451.62 271.23,450.99 272.61,450.37 273.99,449.75 275.37,449.14 276.76,448.52 278.14,447.91 279.53,447.29 280.91,446.68 282.30,446.07 283.69,445.46 285.08,444.86 286.47,444.25 287.86,443.65 289.25,443.05 290.64,442.45 292.03,441.85 293.43,441.25 294.82,440.65 296.22,440.06 297.61,439.46 299.01,438.87 300.40,438.28 301.80,437.69 303.20,437.10 304.60,436.51 306.00,435.92 307.40,435.33 308.80,434.75 310.20,434.16 311.60,433.57 313.00,432.99 314.40,432.41 315.80,431.82 317.20,431.24 318.60,430.66 320.01,430.08 321.41,429.50 322.81,428.92 324.22,428.34 325.62,427.76 327.02,427.18 328.42,426.60 329.83,426.02 331.23,425.44 332.64,424.87 334.04,424.29 335.44,423.71 336.85,423.13 338.25,422.56 339.65,421.98 341.06,421.40 342.46,420.82 343.86,420.25 345.27,419.67 346.67,419.09 348.07,418.51 349.47,417.93 350.88,417.35 352.28,416.78 353.68,416.20 355.08,415.62 356.48,415.04 357.88,414.45 359.28,413.87 360.68,413.29 362.08,412.71 363.48,412.12 364.87,411.54 366.27,410.96 367.67,410.37 369.06,409.78 370.46,409.20 371.85,408.61 373.25,408.02 374.64,407.43 376.04,406.84 377.43,406.25 378.82,405.65 380.21,405.06 381.60,404.47 382.99,403.87 384.38,403.27 385.76,402.67 387.15,402.07 388.54,401.47 389.92,400.87 391.30,400.26 392.69,399.66 394.07,399.05 395.45,398.44 396.83,397.83 398.21,397.22 399.58,396.61 400.96,395.99 402.34,395.37 403.71,394.75 405.08,394.13 406.45,393.51 407.82,392.89 409.19,392.26 410.56,391.63 411.93,391.00 413.29,390.37 414.65,389.74 416.02,389.10 417.38,388.46 418.74,387.82 420.09,387.18 421.45,386.53 422.80,385.89 424.16,385.24 425.51,384.58 426.86,383.93 428.21,383.27 429.55,382.61 430.90,381.95 432.24,381.28 433.59,380.62 434.93,379.95 436.26,379.28 437.60,378.60" stroke="#808000" stroke-opacity="0.7"/>
</g>
<line x1="82.5" y1="425" x2="131.4" y2="453.8" stroke="#ffa500" stroke-opacity="0.85" stroke-width="1.4" stroke-dasharray="1.4,1.5"/>
<line x1="433" y1="453.4" x2="475.6" y2="434.4" stroke="#00ff00" stroke-opacity="0.8" stroke-width="1.3" stroke-dasharray="1.3,1.5"/>
<line x1="443.6" y1="457.4" x2="474.8" y2="469.2" stroke="#008000" stroke-opacity="0.6" stroke-width="0.8" stroke-dasharray="1.2,1.0"/>
<rect x="49.8" y="378.6" width="423.4" height="316.4" fill="none" class="ax"/>
<line x1="47.4" y1="695.00" x2="49.8" y2="695.00" class="ax"/>
<text x="43.4" y="698.50" text-anchor="end">0</text>
<line x1="47.4" y1="631.72" x2="49.8" y2="631.72" class="ax"/>
<text x="43.4" y="635.22" text-anchor="end">2000</text>
<line x1="47.4" y1="568.44" x2="49.8" y2="568.44" class="ax"/>
<text x="43.4" y="571.94" text-anchor="end">4000</text>
<line x1="47.4" y1="505.16" x2="49.8" y2="505.16" class="ax"/>
<text x="43.4" y="508.66" text-anchor="end">6000</text>
<line x1="47.4" y1="441.88" x2="49.8" y2="441.88" class="ax"/>
<text x="43.4" y="445.38" text-anchor="end">8000</text>
<line x1="47.4" y1="378.60" x2="49.8" y2="378.60" class="ax"/>
<text x="43.4" y="382.10" text-anchor="end">10,000</text>
<line x1="49.80" y1="695.0" x2="49.80" y2="697.4" class="ax"/>
<text x="49.60" y="707.70" text-anchor="middle">0</text>
<line x1="102.72" y1="695.0" x2="102.72" y2="697.4" class="ax"/>
<text x="103.92" y="707.70" text-anchor="middle">25,000</text>
<line x1="155.65" y1="695.0" x2="155.65" y2="697.4" class="ax"/>
<text x="156.85" y="707.70" text-anchor="middle">50,000</text>
<line x1="208.57" y1="695.0" x2="208.57" y2="697.4" class="ax"/>
<text x="209.77" y="707.70" text-anchor="middle">75,000</text>
<line x1="261.50" y1="695.0" x2="261.50" y2="697.4" class="ax"/>
<text x="262.70" y="707.70" text-anchor="middle">100,000</text>
<line x1="314.43" y1="695.0" x2="314.43" y2="697.4" class="ax"/>
<text x="315.62" y="707.70" text-anchor="middle">125,000</text>
<line x1="367.35" y1="695.0" x2="367.35" y2="697.4" class="ax"/>
<text x="368.55" y="707.70" text-anchor="middle">150,000</text>
<line x1="420.27" y1="695.0" x2="420.27" y2="697.4" class="ax"/>
<text x="421.47" y="707.70" text-anchor="middle">175,000</text>
<line x1="473.20" y1="695.0" x2="473.20" y2="697.4" class="ax"/>
<text x="474.40" y="707.70" text-anchor="middle">200,000</text>
<text x="261.5" y="718.0" text-anchor="middle">number of reads mapping to the mouse genome</text>
<text transform="translate(11.3,536.8) rotate(-90)" text-anchor="middle">number of detected features</text>
<text x="73.8" y="373.5">Evercode WT Mini</text>
<text x="160.5" y="373.5">HIVE CLX</text>
<text x="247.8" y="373.5">HIVE, frozen</text>
<text x="417.6" y="373.5">Vasaseq</text>
<text x="54.8" y="417.8">HIVE CLX,</text>
<text x="54.8" y="427.6">frozen</text>
<text x="148" y="458">10X</text>
<text x="165.3" y="427.2">Smartseq3</text>
<text x="165.3" y="437.5">UMI</text>
<text x="216.5" y="450.1">Sortseq</text>
<text x="364.9" y="495.9">Smartseq3 body</text>
<text x="477" y="409.4">HIVE</text>
<text x="477" y="439">Plexwell</text>
<text x="477" y="470.4">FLASH-seq</text>
<rect x="49.6" y="733.2" width="442.8" height="40.4" rx="1.8" fill="#fff" fill-opacity="0.8" stroke="#cccccc" stroke-width="0.8"/>
<line x1="52.3" y1="740.3" x2="71.2" y2="740.3" stroke="#0000ff" stroke-opacity="0.7" stroke-width="1.85"/>
<text x="77.7" y="743.3">10X</text>
<line x1="52.3" y1="753.0" x2="71.2" y2="753.0" stroke="#ff0000" stroke-opacity="0.7" stroke-width="1.85"/>
<text x="77.7" y="756.0">Smartseq3 body</text>
<line x1="52.3" y1="765.7" x2="71.2" y2="765.7" stroke="#ffd700" stroke-opacity="0.7" stroke-width="1.85"/>
<text x="77.7" y="768.8">HIVE CLX</text>
<line x1="165.1" y1="740.3" x2="184.0" y2="740.3" stroke="#008000" stroke-opacity="0.7" stroke-width="1.85"/>
<text x="190.5" y="743.3">FLASH-seq</text>
<line x1="165.1" y1="753.0" x2="184.0" y2="753.0" stroke="#ffa500" stroke-opacity="0.7" stroke-width="1.85"/>
<text x="190.5" y="756.0">HIVE CLX, frozen</text>
<line x1="165.1" y1="765.7" x2="184.0" y2="765.7" stroke="#800080" stroke-opacity="0.7" stroke-width="1.85"/>
<text x="190.5" y="768.8">HIVE, frozen</text>
<line x1="279.0" y1="740.3" x2="297.9" y2="740.3" stroke="#a52a2a" stroke-opacity="0.7" stroke-width="1.85"/>
<text x="304.4" y="743.3">HIVE</text>
<line x1="279.0" y1="753.0" x2="297.9" y2="753.0" stroke="#ff00ff" stroke-opacity="0.7" stroke-width="1.85"/>
<text x="304.4" y="756.0">Evercode WT Mini</text>
<line x1="279.0" y1="765.7" x2="297.9" y2="765.7" stroke="#00ff00" stroke-opacity="0.7" stroke-width="1.85"/>
<text x="304.4" y="768.8">Plexwell</text>
<line x1="398.0" y1="740.3" x2="416.9" y2="740.3" stroke="#000000" stroke-opacity="0.7" stroke-width="1.85"/>
<text x="423.4" y="743.3">Sortseq</text>
<line x1="398.0" y1="753.0" x2="416.9" y2="753.0" stroke="#ffff00" stroke-opacity="0.7" stroke-width="1.85"/>
<text x="423.4" y="756.0">Smartseq3 UMI</text>
<line x1="398.0" y1="765.7" x2="416.9" y2="765.7" stroke="#808000" stroke-opacity="0.7" stroke-width="1.85"/>
<text x="423.4" y="768.8">Vasaseq</text>
</svg>
</body></html>
